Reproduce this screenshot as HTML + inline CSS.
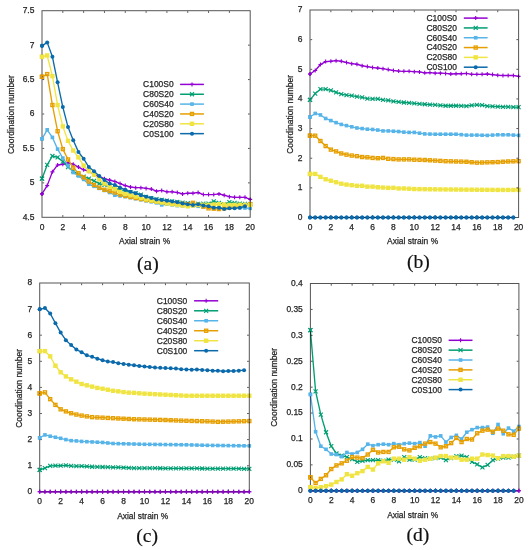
<!DOCTYPE html>
<html><head><meta charset="utf-8"><style>
html,body{margin:0;padding:0;background:#fff;}
svg{display:block;filter:blur(0.3px);}
text{font-family:"Liberation Sans",sans-serif;font-size:8.45px;fill:#262626;stroke:#262626;stroke-width:0.25px;}
text.tag{font-family:"Liberation Serif",serif;font-size:19.6px;fill:#111;stroke:#111;stroke-width:0.2px;}
</style></head><body>
<svg width="530" height="550" viewBox="0 0 530 550">
<rect width="530" height="550" fill="#fff"/>
<text x="42.00" y="229.90" text-anchor="middle">0</text>
<text x="62.82" y="229.90" text-anchor="middle">2</text>
<text x="83.64" y="229.90" text-anchor="middle">4</text>
<text x="104.46" y="229.90" text-anchor="middle">6</text>
<text x="125.28" y="229.90" text-anchor="middle">8</text>
<text x="146.10" y="229.90" text-anchor="middle">10</text>
<text x="166.92" y="229.90" text-anchor="middle">12</text>
<text x="187.74" y="229.90" text-anchor="middle">14</text>
<text x="208.56" y="229.90" text-anchor="middle">16</text>
<text x="229.38" y="229.90" text-anchor="middle">18</text>
<text x="250.20" y="229.90" text-anchor="middle">20</text>
<text x="34.40" y="219.70" text-anchor="end">4.5</text>
<text x="34.40" y="185.27" text-anchor="end">5</text>
<text x="34.40" y="150.83" text-anchor="end">5.5</text>
<text x="34.40" y="116.40" text-anchor="end">6</text>
<text x="34.40" y="81.97" text-anchor="end">6.5</text>
<text x="34.40" y="47.53" text-anchor="end">7</text>
<text x="34.40" y="13.10" text-anchor="end">7.5</text>
<text x="0" y="0" text-anchor="middle" transform="translate(14.10,114.60) rotate(-90)">Coordination number</text>
<text x="144.60" y="243.80" text-anchor="middle">Axial strain %</text>
<text x="147.85" y="269.70" text-anchor="middle" class="tag">(a)</text>
<text x="173.60" y="87.30" text-anchor="end">C100S0</text>
<path d="M180.10 84.40H203.90" stroke="#9400d3" stroke-width="1.5"/>
<path d="M190.00 84.40H194.00M192.00 82.40V86.40" stroke="#9400d3" stroke-width="1.1" fill="none"/>
<text x="173.60" y="97.15" text-anchor="end">C80S20</text>
<path d="M180.10 94.25H203.90" stroke="#009e73" stroke-width="1.5"/>
<path d="M190.00 92.25L194.00 96.25M190.00 96.25L194.00 92.25" stroke="#009e73" stroke-width="1.1" fill="none"/>
<text x="173.60" y="107.00" text-anchor="end">C60S40</text>
<path d="M180.10 104.10H203.90" stroke="#56b4e9" stroke-width="1.5"/>
<rect x="190.20" y="102.30" width="3.60" height="3.60" fill="#56b4e9"/>
<text x="173.60" y="116.85" text-anchor="end">C40S20</text>
<path d="M180.10 113.95H203.90" stroke="#e69f00" stroke-width="1.5"/>
<rect x="190.45" y="112.40" width="3.10" height="3.10" fill="none" stroke="#e69f00" stroke-width="1.3"/>
<text x="173.60" y="126.70" text-anchor="end">C20S80</text>
<path d="M180.10 123.80H203.90" stroke="#f0e442" stroke-width="1.5"/>
<rect x="189.80" y="121.60" width="4.40" height="4.40" fill="#f0e442"/>
<text x="173.60" y="136.55" text-anchor="end">C0S100</text>
<path d="M180.10 133.65H203.90" stroke="#0a6aab" stroke-width="1.5"/>
<circle cx="192.00" cy="133.65" r="2.0" fill="#0a6aab"/>
<path d="M42.00 193.89L47.20 185.62L52.41 171.85L57.61 164.96L62.82 164.27L68.03 162.90L73.23 164.27L78.44 167.03L83.64 169.78L88.84 171.16L94.05 174.60L99.25 176.67L104.46 178.73L109.66 180.11L114.87 181.49L120.08 183.56L125.28 185.62L130.48 187.00L135.69 187.69L140.89 187.69L146.10 188.38L151.31 189.06L156.51 191.13L161.71 190.44L166.92 191.82L172.12 191.82L177.33 192.51L182.53 193.89L187.74 193.20L192.94 193.20L198.15 192.51L203.35 194.57L208.56 194.57L213.76 194.57L218.97 193.89L224.18 195.26L229.38 196.64L234.58 197.33L239.79 197.33L244.99 197.33L250.20 199.39" stroke="#9400d3" stroke-width="1.35" fill="none" stroke-linejoin="round"/>
<path d="M40.00 193.89H44.00M42.00 191.89V195.89" stroke="#9400d3" stroke-width="1.1" fill="none"/>
<path d="M45.20 185.62H49.20M47.20 183.62V187.62" stroke="#9400d3" stroke-width="1.1" fill="none"/>
<path d="M50.41 171.85H54.41M52.41 169.85V173.85" stroke="#9400d3" stroke-width="1.1" fill="none"/>
<path d="M55.61 164.96H59.61M57.61 162.96V166.96" stroke="#9400d3" stroke-width="1.1" fill="none"/>
<path d="M60.82 164.27H64.82M62.82 162.27V166.27" stroke="#9400d3" stroke-width="1.1" fill="none"/>
<path d="M66.03 162.90H70.03M68.03 160.90V164.90" stroke="#9400d3" stroke-width="1.1" fill="none"/>
<path d="M71.23 164.27H75.23M73.23 162.27V166.27" stroke="#9400d3" stroke-width="1.1" fill="none"/>
<path d="M76.44 167.03H80.44M78.44 165.03V169.03" stroke="#9400d3" stroke-width="1.1" fill="none"/>
<path d="M81.64 169.78H85.64M83.64 167.78V171.78" stroke="#9400d3" stroke-width="1.1" fill="none"/>
<path d="M86.84 171.16H90.84M88.84 169.16V173.16" stroke="#9400d3" stroke-width="1.1" fill="none"/>
<path d="M92.05 174.60H96.05M94.05 172.60V176.60" stroke="#9400d3" stroke-width="1.1" fill="none"/>
<path d="M97.25 176.67H101.25M99.25 174.67V178.67" stroke="#9400d3" stroke-width="1.1" fill="none"/>
<path d="M102.46 178.73H106.46M104.46 176.73V180.73" stroke="#9400d3" stroke-width="1.1" fill="none"/>
<path d="M107.66 180.11H111.66M109.66 178.11V182.11" stroke="#9400d3" stroke-width="1.1" fill="none"/>
<path d="M112.87 181.49H116.87M114.87 179.49V183.49" stroke="#9400d3" stroke-width="1.1" fill="none"/>
<path d="M118.08 183.56H122.08M120.08 181.56V185.56" stroke="#9400d3" stroke-width="1.1" fill="none"/>
<path d="M123.28 185.62H127.28M125.28 183.62V187.62" stroke="#9400d3" stroke-width="1.1" fill="none"/>
<path d="M128.48 187.00H132.48M130.48 185.00V189.00" stroke="#9400d3" stroke-width="1.1" fill="none"/>
<path d="M133.69 187.69H137.69M135.69 185.69V189.69" stroke="#9400d3" stroke-width="1.1" fill="none"/>
<path d="M138.89 187.69H142.89M140.89 185.69V189.69" stroke="#9400d3" stroke-width="1.1" fill="none"/>
<path d="M144.10 188.38H148.10M146.10 186.38V190.38" stroke="#9400d3" stroke-width="1.1" fill="none"/>
<path d="M149.31 189.06H153.31M151.31 187.06V191.06" stroke="#9400d3" stroke-width="1.1" fill="none"/>
<path d="M154.51 191.13H158.51M156.51 189.13V193.13" stroke="#9400d3" stroke-width="1.1" fill="none"/>
<path d="M159.71 190.44H163.71M161.71 188.44V192.44" stroke="#9400d3" stroke-width="1.1" fill="none"/>
<path d="M164.92 191.82H168.92M166.92 189.82V193.82" stroke="#9400d3" stroke-width="1.1" fill="none"/>
<path d="M170.12 191.82H174.12M172.12 189.82V193.82" stroke="#9400d3" stroke-width="1.1" fill="none"/>
<path d="M175.33 192.51H179.33M177.33 190.51V194.51" stroke="#9400d3" stroke-width="1.1" fill="none"/>
<path d="M180.53 193.89H184.53M182.53 191.89V195.89" stroke="#9400d3" stroke-width="1.1" fill="none"/>
<path d="M185.74 193.20H189.74M187.74 191.20V195.20" stroke="#9400d3" stroke-width="1.1" fill="none"/>
<path d="M190.94 193.20H194.94M192.94 191.20V195.20" stroke="#9400d3" stroke-width="1.1" fill="none"/>
<path d="M196.15 192.51H200.15M198.15 190.51V194.51" stroke="#9400d3" stroke-width="1.1" fill="none"/>
<path d="M201.35 194.57H205.35M203.35 192.57V196.57" stroke="#9400d3" stroke-width="1.1" fill="none"/>
<path d="M206.56 194.57H210.56M208.56 192.57V196.57" stroke="#9400d3" stroke-width="1.1" fill="none"/>
<path d="M211.76 194.57H215.76M213.76 192.57V196.57" stroke="#9400d3" stroke-width="1.1" fill="none"/>
<path d="M216.97 193.89H220.97M218.97 191.89V195.89" stroke="#9400d3" stroke-width="1.1" fill="none"/>
<path d="M222.18 195.26H226.18M224.18 193.26V197.26" stroke="#9400d3" stroke-width="1.1" fill="none"/>
<path d="M227.38 196.64H231.38M229.38 194.64V198.64" stroke="#9400d3" stroke-width="1.1" fill="none"/>
<path d="M232.58 197.33H236.58M234.58 195.33V199.33" stroke="#9400d3" stroke-width="1.1" fill="none"/>
<path d="M237.79 197.33H241.79M239.79 195.33V199.33" stroke="#9400d3" stroke-width="1.1" fill="none"/>
<path d="M242.99 197.33H246.99M244.99 195.33V199.33" stroke="#9400d3" stroke-width="1.1" fill="none"/>
<path d="M248.20 199.39H252.20M250.20 197.39V201.39" stroke="#9400d3" stroke-width="1.1" fill="none"/>
<path d="M42.00 178.73L47.20 164.96L52.41 156.01L57.61 157.39L62.82 161.52L68.03 167.03L73.23 171.16L78.44 174.60L83.64 176.67L88.84 178.73L94.05 180.80L99.25 183.56L104.46 184.93L109.66 186.65L114.87 188.38L120.08 189.75L125.28 191.13L130.48 192.16L135.69 193.20L140.89 194.57L146.10 196.98L151.31 198.02L156.51 199.05L161.71 199.84L166.92 200.63L172.12 201.32L177.33 202.01L182.53 202.60L187.74 203.18L192.94 203.53L198.15 203.87L203.35 203.70L208.56 203.53L213.76 201.46L218.97 202.84L224.18 204.22L229.38 202.15L234.58 202.84L239.79 203.53L244.99 203.87L250.20 204.22" stroke="#009e73" stroke-width="1.35" fill="none" stroke-linejoin="round"/>
<path d="M40.00 176.73L44.00 180.73M40.00 180.73L44.00 176.73" stroke="#009e73" stroke-width="1.1" fill="none"/>
<path d="M45.20 162.96L49.20 166.96M45.20 166.96L49.20 162.96" stroke="#009e73" stroke-width="1.1" fill="none"/>
<path d="M50.41 154.01L54.41 158.01M50.41 158.01L54.41 154.01" stroke="#009e73" stroke-width="1.1" fill="none"/>
<path d="M55.61 155.39L59.61 159.39M55.61 159.39L59.61 155.39" stroke="#009e73" stroke-width="1.1" fill="none"/>
<path d="M60.82 159.52L64.82 163.52M60.82 163.52L64.82 159.52" stroke="#009e73" stroke-width="1.1" fill="none"/>
<path d="M66.03 165.03L70.03 169.03M66.03 169.03L70.03 165.03" stroke="#009e73" stroke-width="1.1" fill="none"/>
<path d="M71.23 169.16L75.23 173.16M71.23 173.16L75.23 169.16" stroke="#009e73" stroke-width="1.1" fill="none"/>
<path d="M76.44 172.60L80.44 176.60M76.44 176.60L80.44 172.60" stroke="#009e73" stroke-width="1.1" fill="none"/>
<path d="M81.64 174.67L85.64 178.67M81.64 178.67L85.64 174.67" stroke="#009e73" stroke-width="1.1" fill="none"/>
<path d="M86.84 176.73L90.84 180.73M86.84 180.73L90.84 176.73" stroke="#009e73" stroke-width="1.1" fill="none"/>
<path d="M92.05 178.80L96.05 182.80M92.05 182.80L96.05 178.80" stroke="#009e73" stroke-width="1.1" fill="none"/>
<path d="M97.25 181.56L101.25 185.56M97.25 185.56L101.25 181.56" stroke="#009e73" stroke-width="1.1" fill="none"/>
<path d="M102.46 182.93L106.46 186.93M102.46 186.93L106.46 182.93" stroke="#009e73" stroke-width="1.1" fill="none"/>
<path d="M107.66 184.65L111.66 188.65M107.66 188.65L111.66 184.65" stroke="#009e73" stroke-width="1.1" fill="none"/>
<path d="M112.87 186.38L116.87 190.38M112.87 190.38L116.87 186.38" stroke="#009e73" stroke-width="1.1" fill="none"/>
<path d="M118.08 187.75L122.08 191.75M118.08 191.75L122.08 187.75" stroke="#009e73" stroke-width="1.1" fill="none"/>
<path d="M123.28 189.13L127.28 193.13M123.28 193.13L127.28 189.13" stroke="#009e73" stroke-width="1.1" fill="none"/>
<path d="M128.48 190.16L132.48 194.16M128.48 194.16L132.48 190.16" stroke="#009e73" stroke-width="1.1" fill="none"/>
<path d="M133.69 191.20L137.69 195.20M133.69 195.20L137.69 191.20" stroke="#009e73" stroke-width="1.1" fill="none"/>
<path d="M138.89 192.57L142.89 196.57M138.89 196.57L142.89 192.57" stroke="#009e73" stroke-width="1.1" fill="none"/>
<path d="M144.10 194.98L148.10 198.98M144.10 198.98L148.10 194.98" stroke="#009e73" stroke-width="1.1" fill="none"/>
<path d="M149.31 196.02L153.31 200.02M149.31 200.02L153.31 196.02" stroke="#009e73" stroke-width="1.1" fill="none"/>
<path d="M154.51 197.05L158.51 201.05M154.51 201.05L158.51 197.05" stroke="#009e73" stroke-width="1.1" fill="none"/>
<path d="M159.71 197.84L163.71 201.84M159.71 201.84L163.71 197.84" stroke="#009e73" stroke-width="1.1" fill="none"/>
<path d="M164.92 198.63L168.92 202.63M164.92 202.63L168.92 198.63" stroke="#009e73" stroke-width="1.1" fill="none"/>
<path d="M170.12 199.32L174.12 203.32M170.12 203.32L174.12 199.32" stroke="#009e73" stroke-width="1.1" fill="none"/>
<path d="M175.33 200.01L179.33 204.01M175.33 204.01L179.33 200.01" stroke="#009e73" stroke-width="1.1" fill="none"/>
<path d="M180.53 200.60L184.53 204.60M180.53 204.60L184.53 200.60" stroke="#009e73" stroke-width="1.1" fill="none"/>
<path d="M185.74 201.18L189.74 205.18M185.74 205.18L189.74 201.18" stroke="#009e73" stroke-width="1.1" fill="none"/>
<path d="M190.94 201.53L194.94 205.53M190.94 205.53L194.94 201.53" stroke="#009e73" stroke-width="1.1" fill="none"/>
<path d="M196.15 201.87L200.15 205.87M196.15 205.87L200.15 201.87" stroke="#009e73" stroke-width="1.1" fill="none"/>
<path d="M201.35 201.70L205.35 205.70M201.35 205.70L205.35 201.70" stroke="#009e73" stroke-width="1.1" fill="none"/>
<path d="M206.56 201.53L210.56 205.53M206.56 205.53L210.56 201.53" stroke="#009e73" stroke-width="1.1" fill="none"/>
<path d="M211.76 199.46L215.76 203.46M211.76 203.46L215.76 199.46" stroke="#009e73" stroke-width="1.1" fill="none"/>
<path d="M216.97 200.84L220.97 204.84M216.97 204.84L220.97 200.84" stroke="#009e73" stroke-width="1.1" fill="none"/>
<path d="M222.18 202.22L226.18 206.22M222.18 206.22L226.18 202.22" stroke="#009e73" stroke-width="1.1" fill="none"/>
<path d="M227.38 200.15L231.38 204.15M227.38 204.15L231.38 200.15" stroke="#009e73" stroke-width="1.1" fill="none"/>
<path d="M232.58 200.84L236.58 204.84M232.58 204.84L236.58 200.84" stroke="#009e73" stroke-width="1.1" fill="none"/>
<path d="M237.79 201.53L241.79 205.53M237.79 205.53L241.79 201.53" stroke="#009e73" stroke-width="1.1" fill="none"/>
<path d="M242.99 201.87L246.99 205.87M242.99 205.87L246.99 201.87" stroke="#009e73" stroke-width="1.1" fill="none"/>
<path d="M248.20 202.22L252.20 206.22M248.20 206.22L252.20 202.22" stroke="#009e73" stroke-width="1.1" fill="none"/>
<path d="M42.00 138.79L47.20 129.84L52.41 137.41L57.61 149.12L62.82 158.07L68.03 165.65L73.23 172.54L78.44 175.98L83.64 179.42L88.84 184.24L94.05 186.31L99.25 188.38L104.46 190.44L109.66 192.51L114.87 195.26L120.08 195.95L125.28 196.64L130.48 197.67L135.69 198.71L140.89 199.74L146.10 200.77L151.31 201.81L156.51 202.84L161.71 204.90L166.92 204.22L172.12 204.90L177.33 205.59L182.53 205.59L187.74 205.59L192.94 205.94L198.15 206.28L203.35 206.63L208.56 206.97L213.76 207.31L218.97 207.66L224.18 207.66L229.38 207.66L234.58 207.66L239.79 207.66L244.99 208.00L250.20 208.35" stroke="#56b4e9" stroke-width="1.35" fill="none" stroke-linejoin="round"/>
<rect x="40.20" y="136.99" width="3.60" height="3.60" fill="#56b4e9"/>
<rect x="45.41" y="128.04" width="3.60" height="3.60" fill="#56b4e9"/>
<rect x="50.61" y="135.61" width="3.60" height="3.60" fill="#56b4e9"/>
<rect x="55.81" y="147.32" width="3.60" height="3.60" fill="#56b4e9"/>
<rect x="61.02" y="156.27" width="3.60" height="3.60" fill="#56b4e9"/>
<rect x="66.23" y="163.85" width="3.60" height="3.60" fill="#56b4e9"/>
<rect x="71.43" y="170.74" width="3.60" height="3.60" fill="#56b4e9"/>
<rect x="76.64" y="174.18" width="3.60" height="3.60" fill="#56b4e9"/>
<rect x="81.84" y="177.62" width="3.60" height="3.60" fill="#56b4e9"/>
<rect x="87.05" y="182.44" width="3.60" height="3.60" fill="#56b4e9"/>
<rect x="92.25" y="184.51" width="3.60" height="3.60" fill="#56b4e9"/>
<rect x="97.45" y="186.58" width="3.60" height="3.60" fill="#56b4e9"/>
<rect x="102.66" y="188.64" width="3.60" height="3.60" fill="#56b4e9"/>
<rect x="107.86" y="190.71" width="3.60" height="3.60" fill="#56b4e9"/>
<rect x="113.07" y="193.46" width="3.60" height="3.60" fill="#56b4e9"/>
<rect x="118.28" y="194.15" width="3.60" height="3.60" fill="#56b4e9"/>
<rect x="123.48" y="194.84" width="3.60" height="3.60" fill="#56b4e9"/>
<rect x="128.68" y="195.87" width="3.60" height="3.60" fill="#56b4e9"/>
<rect x="133.89" y="196.91" width="3.60" height="3.60" fill="#56b4e9"/>
<rect x="139.09" y="197.94" width="3.60" height="3.60" fill="#56b4e9"/>
<rect x="144.30" y="198.97" width="3.60" height="3.60" fill="#56b4e9"/>
<rect x="149.50" y="200.01" width="3.60" height="3.60" fill="#56b4e9"/>
<rect x="154.71" y="201.04" width="3.60" height="3.60" fill="#56b4e9"/>
<rect x="159.91" y="203.10" width="3.60" height="3.60" fill="#56b4e9"/>
<rect x="165.12" y="202.42" width="3.60" height="3.60" fill="#56b4e9"/>
<rect x="170.32" y="203.10" width="3.60" height="3.60" fill="#56b4e9"/>
<rect x="175.53" y="203.79" width="3.60" height="3.60" fill="#56b4e9"/>
<rect x="180.73" y="203.79" width="3.60" height="3.60" fill="#56b4e9"/>
<rect x="185.94" y="203.79" width="3.60" height="3.60" fill="#56b4e9"/>
<rect x="191.14" y="204.14" width="3.60" height="3.60" fill="#56b4e9"/>
<rect x="196.35" y="204.48" width="3.60" height="3.60" fill="#56b4e9"/>
<rect x="201.55" y="204.83" width="3.60" height="3.60" fill="#56b4e9"/>
<rect x="206.76" y="205.17" width="3.60" height="3.60" fill="#56b4e9"/>
<rect x="211.96" y="205.51" width="3.60" height="3.60" fill="#56b4e9"/>
<rect x="217.17" y="205.86" width="3.60" height="3.60" fill="#56b4e9"/>
<rect x="222.38" y="205.86" width="3.60" height="3.60" fill="#56b4e9"/>
<rect x="227.58" y="205.86" width="3.60" height="3.60" fill="#56b4e9"/>
<rect x="232.78" y="205.86" width="3.60" height="3.60" fill="#56b4e9"/>
<rect x="237.99" y="205.86" width="3.60" height="3.60" fill="#56b4e9"/>
<rect x="243.19" y="206.20" width="3.60" height="3.60" fill="#56b4e9"/>
<rect x="248.40" y="206.55" width="3.60" height="3.60" fill="#56b4e9"/>
<path d="M42.00 76.81L47.20 74.06L52.41 105.05L57.61 131.22L62.82 149.12L68.03 159.45L73.23 167.72L78.44 173.23L83.64 177.36L88.84 181.49L94.05 184.93L99.25 187.69L104.46 189.75L109.66 191.13L114.87 192.51L120.08 194.57L125.28 195.95L130.48 196.98L135.69 198.02L140.89 199.05L146.10 200.08L151.31 200.77L156.51 201.46L161.71 202.15L166.92 202.84L172.12 203.18L177.33 203.53L182.53 203.87L187.74 204.22L192.94 202.84L198.15 204.90L203.35 206.63L208.56 208.35L213.76 208.69L218.97 209.04L224.18 208.35L229.38 207.66L234.58 206.97L239.79 206.28L244.99 205.25L250.20 204.22" stroke="#e69f00" stroke-width="1.35" fill="none" stroke-linejoin="round"/>
<rect x="40.45" y="75.26" width="3.10" height="3.10" fill="none" stroke="#e69f00" stroke-width="1.3"/>
<rect x="45.66" y="72.51" width="3.10" height="3.10" fill="none" stroke="#e69f00" stroke-width="1.3"/>
<rect x="50.86" y="103.50" width="3.10" height="3.10" fill="none" stroke="#e69f00" stroke-width="1.3"/>
<rect x="56.06" y="129.67" width="3.10" height="3.10" fill="none" stroke="#e69f00" stroke-width="1.3"/>
<rect x="61.27" y="147.57" width="3.10" height="3.10" fill="none" stroke="#e69f00" stroke-width="1.3"/>
<rect x="66.48" y="157.90" width="3.10" height="3.10" fill="none" stroke="#e69f00" stroke-width="1.3"/>
<rect x="71.68" y="166.17" width="3.10" height="3.10" fill="none" stroke="#e69f00" stroke-width="1.3"/>
<rect x="76.89" y="171.68" width="3.10" height="3.10" fill="none" stroke="#e69f00" stroke-width="1.3"/>
<rect x="82.09" y="175.81" width="3.10" height="3.10" fill="none" stroke="#e69f00" stroke-width="1.3"/>
<rect x="87.30" y="179.94" width="3.10" height="3.10" fill="none" stroke="#e69f00" stroke-width="1.3"/>
<rect x="92.50" y="183.38" width="3.10" height="3.10" fill="none" stroke="#e69f00" stroke-width="1.3"/>
<rect x="97.70" y="186.14" width="3.10" height="3.10" fill="none" stroke="#e69f00" stroke-width="1.3"/>
<rect x="102.91" y="188.20" width="3.10" height="3.10" fill="none" stroke="#e69f00" stroke-width="1.3"/>
<rect x="108.11" y="189.58" width="3.10" height="3.10" fill="none" stroke="#e69f00" stroke-width="1.3"/>
<rect x="113.32" y="190.96" width="3.10" height="3.10" fill="none" stroke="#e69f00" stroke-width="1.3"/>
<rect x="118.53" y="193.02" width="3.10" height="3.10" fill="none" stroke="#e69f00" stroke-width="1.3"/>
<rect x="123.73" y="194.40" width="3.10" height="3.10" fill="none" stroke="#e69f00" stroke-width="1.3"/>
<rect x="128.93" y="195.43" width="3.10" height="3.10" fill="none" stroke="#e69f00" stroke-width="1.3"/>
<rect x="134.14" y="196.47" width="3.10" height="3.10" fill="none" stroke="#e69f00" stroke-width="1.3"/>
<rect x="139.34" y="197.50" width="3.10" height="3.10" fill="none" stroke="#e69f00" stroke-width="1.3"/>
<rect x="144.55" y="198.53" width="3.10" height="3.10" fill="none" stroke="#e69f00" stroke-width="1.3"/>
<rect x="149.75" y="199.22" width="3.10" height="3.10" fill="none" stroke="#e69f00" stroke-width="1.3"/>
<rect x="154.96" y="199.91" width="3.10" height="3.10" fill="none" stroke="#e69f00" stroke-width="1.3"/>
<rect x="160.16" y="200.60" width="3.10" height="3.10" fill="none" stroke="#e69f00" stroke-width="1.3"/>
<rect x="165.37" y="201.29" width="3.10" height="3.10" fill="none" stroke="#e69f00" stroke-width="1.3"/>
<rect x="170.57" y="201.63" width="3.10" height="3.10" fill="none" stroke="#e69f00" stroke-width="1.3"/>
<rect x="175.78" y="201.98" width="3.10" height="3.10" fill="none" stroke="#e69f00" stroke-width="1.3"/>
<rect x="180.98" y="202.32" width="3.10" height="3.10" fill="none" stroke="#e69f00" stroke-width="1.3"/>
<rect x="186.19" y="202.67" width="3.10" height="3.10" fill="none" stroke="#e69f00" stroke-width="1.3"/>
<rect x="191.39" y="201.29" width="3.10" height="3.10" fill="none" stroke="#e69f00" stroke-width="1.3"/>
<rect x="196.60" y="203.35" width="3.10" height="3.10" fill="none" stroke="#e69f00" stroke-width="1.3"/>
<rect x="201.80" y="205.08" width="3.10" height="3.10" fill="none" stroke="#e69f00" stroke-width="1.3"/>
<rect x="207.01" y="206.80" width="3.10" height="3.10" fill="none" stroke="#e69f00" stroke-width="1.3"/>
<rect x="212.21" y="207.14" width="3.10" height="3.10" fill="none" stroke="#e69f00" stroke-width="1.3"/>
<rect x="217.42" y="207.49" width="3.10" height="3.10" fill="none" stroke="#e69f00" stroke-width="1.3"/>
<rect x="222.62" y="206.80" width="3.10" height="3.10" fill="none" stroke="#e69f00" stroke-width="1.3"/>
<rect x="227.83" y="206.11" width="3.10" height="3.10" fill="none" stroke="#e69f00" stroke-width="1.3"/>
<rect x="233.03" y="205.42" width="3.10" height="3.10" fill="none" stroke="#e69f00" stroke-width="1.3"/>
<rect x="238.24" y="204.73" width="3.10" height="3.10" fill="none" stroke="#e69f00" stroke-width="1.3"/>
<rect x="243.44" y="203.70" width="3.10" height="3.10" fill="none" stroke="#e69f00" stroke-width="1.3"/>
<rect x="248.65" y="202.67" width="3.10" height="3.10" fill="none" stroke="#e69f00" stroke-width="1.3"/>
<path d="M42.00 56.84L47.20 55.46L52.41 76.12L57.61 105.05L62.82 126.40L68.03 140.86L73.23 150.50L78.44 157.39L83.64 165.65L88.84 171.16L94.05 174.60L99.25 179.42L104.46 183.56L109.66 187.00L114.87 189.06L120.08 191.82L125.28 193.89L130.48 195.26L135.69 196.64L140.89 198.02L146.10 199.39L151.31 200.43L156.51 201.46L161.71 202.49L166.92 203.53L172.12 204.22L177.33 204.90L182.53 205.59L187.74 206.28L192.94 205.59L198.15 204.90L203.35 204.90L208.56 204.90L213.76 204.56L218.97 204.22L224.18 204.56L229.38 204.90L234.58 204.90L239.79 204.90L244.99 204.90L250.20 204.90" stroke="#f0e442" stroke-width="1.35" fill="none" stroke-linejoin="round"/>
<rect x="39.80" y="54.64" width="4.40" height="4.40" fill="#f0e442"/>
<rect x="45.00" y="53.26" width="4.40" height="4.40" fill="#f0e442"/>
<rect x="50.21" y="73.92" width="4.40" height="4.40" fill="#f0e442"/>
<rect x="55.41" y="102.85" width="4.40" height="4.40" fill="#f0e442"/>
<rect x="60.62" y="124.20" width="4.40" height="4.40" fill="#f0e442"/>
<rect x="65.83" y="138.66" width="4.40" height="4.40" fill="#f0e442"/>
<rect x="71.03" y="148.30" width="4.40" height="4.40" fill="#f0e442"/>
<rect x="76.23" y="155.19" width="4.40" height="4.40" fill="#f0e442"/>
<rect x="81.44" y="163.45" width="4.40" height="4.40" fill="#f0e442"/>
<rect x="86.64" y="168.96" width="4.40" height="4.40" fill="#f0e442"/>
<rect x="91.85" y="172.40" width="4.40" height="4.40" fill="#f0e442"/>
<rect x="97.05" y="177.22" width="4.40" height="4.40" fill="#f0e442"/>
<rect x="102.26" y="181.36" width="4.40" height="4.40" fill="#f0e442"/>
<rect x="107.46" y="184.80" width="4.40" height="4.40" fill="#f0e442"/>
<rect x="112.67" y="186.86" width="4.40" height="4.40" fill="#f0e442"/>
<rect x="117.88" y="189.62" width="4.40" height="4.40" fill="#f0e442"/>
<rect x="123.08" y="191.69" width="4.40" height="4.40" fill="#f0e442"/>
<rect x="128.28" y="193.06" width="4.40" height="4.40" fill="#f0e442"/>
<rect x="133.49" y="194.44" width="4.40" height="4.40" fill="#f0e442"/>
<rect x="138.69" y="195.82" width="4.40" height="4.40" fill="#f0e442"/>
<rect x="143.90" y="197.19" width="4.40" height="4.40" fill="#f0e442"/>
<rect x="149.11" y="198.23" width="4.40" height="4.40" fill="#f0e442"/>
<rect x="154.31" y="199.26" width="4.40" height="4.40" fill="#f0e442"/>
<rect x="159.51" y="200.29" width="4.40" height="4.40" fill="#f0e442"/>
<rect x="164.72" y="201.33" width="4.40" height="4.40" fill="#f0e442"/>
<rect x="169.93" y="202.02" width="4.40" height="4.40" fill="#f0e442"/>
<rect x="175.13" y="202.70" width="4.40" height="4.40" fill="#f0e442"/>
<rect x="180.34" y="203.39" width="4.40" height="4.40" fill="#f0e442"/>
<rect x="185.54" y="204.08" width="4.40" height="4.40" fill="#f0e442"/>
<rect x="190.75" y="203.39" width="4.40" height="4.40" fill="#f0e442"/>
<rect x="195.95" y="202.70" width="4.40" height="4.40" fill="#f0e442"/>
<rect x="201.16" y="202.70" width="4.40" height="4.40" fill="#f0e442"/>
<rect x="206.36" y="202.70" width="4.40" height="4.40" fill="#f0e442"/>
<rect x="211.56" y="202.36" width="4.40" height="4.40" fill="#f0e442"/>
<rect x="216.77" y="202.02" width="4.40" height="4.40" fill="#f0e442"/>
<rect x="221.98" y="202.36" width="4.40" height="4.40" fill="#f0e442"/>
<rect x="227.18" y="202.70" width="4.40" height="4.40" fill="#f0e442"/>
<rect x="232.38" y="202.70" width="4.40" height="4.40" fill="#f0e442"/>
<rect x="237.59" y="202.70" width="4.40" height="4.40" fill="#f0e442"/>
<rect x="242.79" y="202.70" width="4.40" height="4.40" fill="#f0e442"/>
<rect x="248.00" y="202.70" width="4.40" height="4.40" fill="#f0e442"/>
<path d="M42.00 45.82L47.20 42.38L52.41 56.84L57.61 82.32L62.82 107.11L68.03 127.08L73.23 140.17L78.44 151.88L83.64 158.76L88.84 167.03L94.05 171.16L99.25 175.98L104.46 180.11L109.66 183.56L114.87 184.93L120.08 187.69L125.28 189.75L130.48 191.82L135.69 193.20L140.89 195.26L146.10 196.64L151.31 198.02L156.51 199.39L161.71 200.08L166.92 200.77L172.12 201.46L177.33 202.15L182.53 203.53L187.74 204.22L192.94 204.90L198.15 204.22L203.35 205.59L208.56 206.28L213.76 207.66L218.97 207.66L224.18 209.04L229.38 208.35L234.58 208.35L239.79 207.66L244.99 206.28" stroke="#0a6aab" stroke-width="1.35" fill="none" stroke-linejoin="round"/>
<circle cx="42.00" cy="45.82" r="2.0" fill="#0a6aab"/>
<circle cx="47.20" cy="42.38" r="2.0" fill="#0a6aab"/>
<circle cx="52.41" cy="56.84" r="2.0" fill="#0a6aab"/>
<circle cx="57.61" cy="82.32" r="2.0" fill="#0a6aab"/>
<circle cx="62.82" cy="107.11" r="2.0" fill="#0a6aab"/>
<circle cx="68.03" cy="127.08" r="2.0" fill="#0a6aab"/>
<circle cx="73.23" cy="140.17" r="2.0" fill="#0a6aab"/>
<circle cx="78.44" cy="151.88" r="2.0" fill="#0a6aab"/>
<circle cx="83.64" cy="158.76" r="2.0" fill="#0a6aab"/>
<circle cx="88.84" cy="167.03" r="2.0" fill="#0a6aab"/>
<circle cx="94.05" cy="171.16" r="2.0" fill="#0a6aab"/>
<circle cx="99.25" cy="175.98" r="2.0" fill="#0a6aab"/>
<circle cx="104.46" cy="180.11" r="2.0" fill="#0a6aab"/>
<circle cx="109.66" cy="183.56" r="2.0" fill="#0a6aab"/>
<circle cx="114.87" cy="184.93" r="2.0" fill="#0a6aab"/>
<circle cx="120.08" cy="187.69" r="2.0" fill="#0a6aab"/>
<circle cx="125.28" cy="189.75" r="2.0" fill="#0a6aab"/>
<circle cx="130.48" cy="191.82" r="2.0" fill="#0a6aab"/>
<circle cx="135.69" cy="193.20" r="2.0" fill="#0a6aab"/>
<circle cx="140.89" cy="195.26" r="2.0" fill="#0a6aab"/>
<circle cx="146.10" cy="196.64" r="2.0" fill="#0a6aab"/>
<circle cx="151.31" cy="198.02" r="2.0" fill="#0a6aab"/>
<circle cx="156.51" cy="199.39" r="2.0" fill="#0a6aab"/>
<circle cx="161.71" cy="200.08" r="2.0" fill="#0a6aab"/>
<circle cx="166.92" cy="200.77" r="2.0" fill="#0a6aab"/>
<circle cx="172.12" cy="201.46" r="2.0" fill="#0a6aab"/>
<circle cx="177.33" cy="202.15" r="2.0" fill="#0a6aab"/>
<circle cx="182.53" cy="203.53" r="2.0" fill="#0a6aab"/>
<circle cx="187.74" cy="204.22" r="2.0" fill="#0a6aab"/>
<circle cx="192.94" cy="204.90" r="2.0" fill="#0a6aab"/>
<circle cx="198.15" cy="204.22" r="2.0" fill="#0a6aab"/>
<circle cx="203.35" cy="205.59" r="2.0" fill="#0a6aab"/>
<circle cx="208.56" cy="206.28" r="2.0" fill="#0a6aab"/>
<circle cx="213.76" cy="207.66" r="2.0" fill="#0a6aab"/>
<circle cx="218.97" cy="207.66" r="2.0" fill="#0a6aab"/>
<circle cx="224.18" cy="209.04" r="2.0" fill="#0a6aab"/>
<circle cx="229.38" cy="208.35" r="2.0" fill="#0a6aab"/>
<circle cx="234.58" cy="208.35" r="2.0" fill="#0a6aab"/>
<circle cx="239.79" cy="207.66" r="2.0" fill="#0a6aab"/>
<circle cx="244.99" cy="206.28" r="2.0" fill="#0a6aab"/>
<rect x="42.00" y="10.70" width="208.20" height="206.60" fill="none" stroke="#555555" stroke-width="1" style="mix-blend-mode:multiply"/>
<path d="M62.82 216.80v-1.7M62.82 11.20v1.7M83.64 216.80v-1.7M83.64 11.20v1.7M104.46 216.80v-1.7M104.46 11.20v1.7M125.28 216.80v-1.7M125.28 11.20v1.7M146.10 216.80v-1.7M146.10 11.20v1.7M166.92 216.80v-1.7M166.92 11.20v1.7M187.74 216.80v-1.7M187.74 11.20v1.7M208.56 216.80v-1.7M208.56 11.20v1.7M229.38 216.80v-1.7M229.38 11.20v1.7M42.50 182.87h1.7M249.70 182.87h-1.7M42.50 148.43h1.7M249.70 148.43h-1.7M42.50 114.00h1.7M249.70 114.00h-1.7M42.50 79.57h1.7M249.70 79.57h-1.7M42.50 45.13h1.7M249.70 45.13h-1.7" stroke="#555555" stroke-width="1" fill="none" style="mix-blend-mode:multiply"/>
<path d="M40.00 193.89H44.00M42.00 191.89V195.89" stroke="#9400d3" stroke-width="1.1" fill="none"/>
<path d="M40.00 176.73L44.00 180.73M40.00 180.73L44.00 176.73" stroke="#009e73" stroke-width="1.1" fill="none"/>
<rect x="40.20" y="136.99" width="3.60" height="3.60" fill="#56b4e9"/>
<rect x="40.45" y="75.26" width="3.10" height="3.10" fill="none" stroke="#e69f00" stroke-width="1.3"/>
<rect x="39.80" y="54.64" width="4.40" height="4.40" fill="#f0e442"/>
<circle cx="42.00" cy="45.82" r="2.0" fill="#0a6aab"/>
<text x="310.00" y="229.50" text-anchor="middle">0</text>
<text x="330.86" y="229.50" text-anchor="middle">2</text>
<text x="351.72" y="229.50" text-anchor="middle">4</text>
<text x="372.58" y="229.50" text-anchor="middle">6</text>
<text x="393.44" y="229.50" text-anchor="middle">8</text>
<text x="414.30" y="229.50" text-anchor="middle">10</text>
<text x="435.16" y="229.50" text-anchor="middle">12</text>
<text x="456.02" y="229.50" text-anchor="middle">14</text>
<text x="476.88" y="229.50" text-anchor="middle">16</text>
<text x="497.74" y="229.50" text-anchor="middle">18</text>
<text x="518.60" y="229.50" text-anchor="middle">20</text>
<text x="302.40" y="219.90" text-anchor="end">0</text>
<text x="302.40" y="190.26" text-anchor="end">1</text>
<text x="302.40" y="160.61" text-anchor="end">2</text>
<text x="302.40" y="130.97" text-anchor="end">3</text>
<text x="302.40" y="101.33" text-anchor="end">4</text>
<text x="302.40" y="71.69" text-anchor="end">5</text>
<text x="302.40" y="42.04" text-anchor="end">6</text>
<text x="302.40" y="12.40" text-anchor="end">7</text>
<text x="0" y="0" text-anchor="middle" transform="translate(292.60,114.40) rotate(-90)">Coordination number</text>
<text x="412.60" y="244.20" text-anchor="middle">Axial strain %</text>
<text x="418.45" y="268.20" text-anchor="middle" class="tag">(b)</text>
<text x="457.00" y="21.00" text-anchor="end">C100S0</text>
<path d="M463.80 18.10H487.60" stroke="#9400d3" stroke-width="1.5"/>
<path d="M473.70 18.10H477.70M475.70 16.10V20.10" stroke="#9400d3" stroke-width="1.1" fill="none"/>
<text x="457.00" y="30.82" text-anchor="end">C80S20</text>
<path d="M463.80 27.92H487.60" stroke="#009e73" stroke-width="1.5"/>
<path d="M473.70 25.92L477.70 29.92M473.70 29.92L477.70 25.92" stroke="#009e73" stroke-width="1.1" fill="none"/>
<text x="457.00" y="40.64" text-anchor="end">C60S40</text>
<path d="M463.80 37.74H487.60" stroke="#56b4e9" stroke-width="1.5"/>
<rect x="473.90" y="35.94" width="3.60" height="3.60" fill="#56b4e9"/>
<text x="457.00" y="50.46" text-anchor="end">C40S20</text>
<path d="M463.80 47.56H487.60" stroke="#e69f00" stroke-width="1.5"/>
<rect x="474.15" y="46.01" width="3.10" height="3.10" fill="none" stroke="#e69f00" stroke-width="1.3"/>
<text x="457.00" y="60.28" text-anchor="end">C20S80</text>
<path d="M463.80 57.38H487.60" stroke="#f0e442" stroke-width="1.5"/>
<rect x="473.50" y="55.18" width="4.40" height="4.40" fill="#f0e442"/>
<text x="457.00" y="70.10" text-anchor="end">C0S100</text>
<path d="M463.80 67.20H487.60" stroke="#0a6aab" stroke-width="1.5"/>
<circle cx="475.70" cy="67.20" r="2.0" fill="#0a6aab"/>
<path d="M310.00 74.03L315.21 70.47L320.43 64.54L325.64 61.58L330.86 61.28L336.07 60.69L341.29 61.28L346.50 62.47L351.72 63.65L356.94 64.25L362.15 65.73L367.37 66.62L372.58 67.51L377.80 68.10L383.01 68.69L388.23 69.58L393.44 70.47L398.65 71.06L403.87 71.36L409.09 71.36L414.30 71.66L419.51 71.95L424.73 72.84L429.94 72.55L435.16 73.14L440.38 73.14L445.59 73.44L450.81 74.03L456.02 73.73L461.24 73.73L466.45 73.44L471.67 74.32L476.88 74.32L482.10 74.32L487.31 74.03L492.53 74.62L497.74 75.21L502.96 75.51L508.17 75.51L513.38 75.51L518.60 76.40" stroke="#9400d3" stroke-width="1.35" fill="none" stroke-linejoin="round"/>
<path d="M308.00 74.03H312.00M310.00 72.03V76.03" stroke="#9400d3" stroke-width="1.1" fill="none"/>
<path d="M313.21 70.47H317.21M315.21 68.47V72.47" stroke="#9400d3" stroke-width="1.1" fill="none"/>
<path d="M318.43 64.54H322.43M320.43 62.54V66.54" stroke="#9400d3" stroke-width="1.1" fill="none"/>
<path d="M323.64 61.58H327.64M325.64 59.58V63.58" stroke="#9400d3" stroke-width="1.1" fill="none"/>
<path d="M328.86 61.28H332.86M330.86 59.28V63.28" stroke="#9400d3" stroke-width="1.1" fill="none"/>
<path d="M334.07 60.69H338.07M336.07 58.69V62.69" stroke="#9400d3" stroke-width="1.1" fill="none"/>
<path d="M339.29 61.28H343.29M341.29 59.28V63.28" stroke="#9400d3" stroke-width="1.1" fill="none"/>
<path d="M344.50 62.47H348.50M346.50 60.47V64.47" stroke="#9400d3" stroke-width="1.1" fill="none"/>
<path d="M349.72 63.65H353.72M351.72 61.65V65.65" stroke="#9400d3" stroke-width="1.1" fill="none"/>
<path d="M354.94 64.25H358.94M356.94 62.25V66.25" stroke="#9400d3" stroke-width="1.1" fill="none"/>
<path d="M360.15 65.73H364.15M362.15 63.73V67.73" stroke="#9400d3" stroke-width="1.1" fill="none"/>
<path d="M365.37 66.62H369.37M367.37 64.62V68.62" stroke="#9400d3" stroke-width="1.1" fill="none"/>
<path d="M370.58 67.51H374.58M372.58 65.51V69.51" stroke="#9400d3" stroke-width="1.1" fill="none"/>
<path d="M375.80 68.10H379.80M377.80 66.10V70.10" stroke="#9400d3" stroke-width="1.1" fill="none"/>
<path d="M381.01 68.69H385.01M383.01 66.69V70.69" stroke="#9400d3" stroke-width="1.1" fill="none"/>
<path d="M386.23 69.58H390.23M388.23 67.58V71.58" stroke="#9400d3" stroke-width="1.1" fill="none"/>
<path d="M391.44 70.47H395.44M393.44 68.47V72.47" stroke="#9400d3" stroke-width="1.1" fill="none"/>
<path d="M396.65 71.06H400.65M398.65 69.06V73.06" stroke="#9400d3" stroke-width="1.1" fill="none"/>
<path d="M401.87 71.36H405.87M403.87 69.36V73.36" stroke="#9400d3" stroke-width="1.1" fill="none"/>
<path d="M407.09 71.36H411.09M409.09 69.36V73.36" stroke="#9400d3" stroke-width="1.1" fill="none"/>
<path d="M412.30 71.66H416.30M414.30 69.66V73.66" stroke="#9400d3" stroke-width="1.1" fill="none"/>
<path d="M417.51 71.95H421.51M419.51 69.95V73.95" stroke="#9400d3" stroke-width="1.1" fill="none"/>
<path d="M422.73 72.84H426.73M424.73 70.84V74.84" stroke="#9400d3" stroke-width="1.1" fill="none"/>
<path d="M427.94 72.55H431.94M429.94 70.55V74.55" stroke="#9400d3" stroke-width="1.1" fill="none"/>
<path d="M433.16 73.14H437.16M435.16 71.14V75.14" stroke="#9400d3" stroke-width="1.1" fill="none"/>
<path d="M438.38 73.14H442.38M440.38 71.14V75.14" stroke="#9400d3" stroke-width="1.1" fill="none"/>
<path d="M443.59 73.44H447.59M445.59 71.44V75.44" stroke="#9400d3" stroke-width="1.1" fill="none"/>
<path d="M448.81 74.03H452.81M450.81 72.03V76.03" stroke="#9400d3" stroke-width="1.1" fill="none"/>
<path d="M454.02 73.73H458.02M456.02 71.73V75.73" stroke="#9400d3" stroke-width="1.1" fill="none"/>
<path d="M459.24 73.73H463.24M461.24 71.73V75.73" stroke="#9400d3" stroke-width="1.1" fill="none"/>
<path d="M464.45 73.44H468.45M466.45 71.44V75.44" stroke="#9400d3" stroke-width="1.1" fill="none"/>
<path d="M469.67 74.32H473.67M471.67 72.32V76.32" stroke="#9400d3" stroke-width="1.1" fill="none"/>
<path d="M474.88 74.32H478.88M476.88 72.32V76.32" stroke="#9400d3" stroke-width="1.1" fill="none"/>
<path d="M480.10 74.32H484.10M482.10 72.32V76.32" stroke="#9400d3" stroke-width="1.1" fill="none"/>
<path d="M485.31 74.03H489.31M487.31 72.03V76.03" stroke="#9400d3" stroke-width="1.1" fill="none"/>
<path d="M490.53 74.62H494.53M492.53 72.62V76.62" stroke="#9400d3" stroke-width="1.1" fill="none"/>
<path d="M495.74 75.21H499.74M497.74 73.21V77.21" stroke="#9400d3" stroke-width="1.1" fill="none"/>
<path d="M500.96 75.51H504.96M502.96 73.51V77.51" stroke="#9400d3" stroke-width="1.1" fill="none"/>
<path d="M506.17 75.51H510.17M508.17 73.51V77.51" stroke="#9400d3" stroke-width="1.1" fill="none"/>
<path d="M511.38 75.51H515.38M513.38 73.51V77.51" stroke="#9400d3" stroke-width="1.1" fill="none"/>
<path d="M516.60 76.40H520.60M518.60 74.40V78.40" stroke="#9400d3" stroke-width="1.1" fill="none"/>
<path d="M310.00 99.82L315.21 93.59L320.43 89.15L325.64 89.15L330.86 90.33L336.07 92.41L341.29 94.19L346.50 95.08L351.72 95.67L356.94 96.56L362.15 97.45L367.37 98.63L372.58 98.93L377.80 98.93L383.01 99.82L388.23 100.41L393.44 101.30L398.65 101.89L403.87 102.49L409.09 102.78L414.30 103.38L419.51 103.82L424.73 104.26L429.94 104.56L435.16 104.86L440.38 105.30L445.59 105.75L450.81 105.75L456.02 105.75L461.24 105.89L466.45 106.04L471.67 105.45L476.88 104.86L482.10 105.15L487.31 106.04L492.53 106.34L497.74 106.64L502.96 106.78L508.17 106.93L513.38 107.08L518.60 107.23" stroke="#009e73" stroke-width="1.35" fill="none" stroke-linejoin="round"/>
<path d="M308.00 97.82L312.00 101.82M308.00 101.82L312.00 97.82" stroke="#009e73" stroke-width="1.1" fill="none"/>
<path d="M313.21 91.59L317.21 95.59M313.21 95.59L317.21 91.59" stroke="#009e73" stroke-width="1.1" fill="none"/>
<path d="M318.43 87.15L322.43 91.15M318.43 91.15L322.43 87.15" stroke="#009e73" stroke-width="1.1" fill="none"/>
<path d="M323.64 87.15L327.64 91.15M323.64 91.15L327.64 87.15" stroke="#009e73" stroke-width="1.1" fill="none"/>
<path d="M328.86 88.33L332.86 92.33M328.86 92.33L332.86 88.33" stroke="#009e73" stroke-width="1.1" fill="none"/>
<path d="M334.07 90.41L338.07 94.41M334.07 94.41L338.07 90.41" stroke="#009e73" stroke-width="1.1" fill="none"/>
<path d="M339.29 92.19L343.29 96.19M339.29 96.19L343.29 92.19" stroke="#009e73" stroke-width="1.1" fill="none"/>
<path d="M344.50 93.08L348.50 97.08M344.50 97.08L348.50 93.08" stroke="#009e73" stroke-width="1.1" fill="none"/>
<path d="M349.72 93.67L353.72 97.67M349.72 97.67L353.72 93.67" stroke="#009e73" stroke-width="1.1" fill="none"/>
<path d="M354.94 94.56L358.94 98.56M354.94 98.56L358.94 94.56" stroke="#009e73" stroke-width="1.1" fill="none"/>
<path d="M360.15 95.45L364.15 99.45M360.15 99.45L364.15 95.45" stroke="#009e73" stroke-width="1.1" fill="none"/>
<path d="M365.37 96.63L369.37 100.63M365.37 100.63L369.37 96.63" stroke="#009e73" stroke-width="1.1" fill="none"/>
<path d="M370.58 96.93L374.58 100.93M370.58 100.93L374.58 96.93" stroke="#009e73" stroke-width="1.1" fill="none"/>
<path d="M375.80 96.93L379.80 100.93M375.80 100.93L379.80 96.93" stroke="#009e73" stroke-width="1.1" fill="none"/>
<path d="M381.01 97.82L385.01 101.82M381.01 101.82L385.01 97.82" stroke="#009e73" stroke-width="1.1" fill="none"/>
<path d="M386.23 98.41L390.23 102.41M386.23 102.41L390.23 98.41" stroke="#009e73" stroke-width="1.1" fill="none"/>
<path d="M391.44 99.30L395.44 103.30M391.44 103.30L395.44 99.30" stroke="#009e73" stroke-width="1.1" fill="none"/>
<path d="M396.65 99.89L400.65 103.89M396.65 103.89L400.65 99.89" stroke="#009e73" stroke-width="1.1" fill="none"/>
<path d="M401.87 100.49L405.87 104.49M401.87 104.49L405.87 100.49" stroke="#009e73" stroke-width="1.1" fill="none"/>
<path d="M407.09 100.78L411.09 104.78M407.09 104.78L411.09 100.78" stroke="#009e73" stroke-width="1.1" fill="none"/>
<path d="M412.30 101.38L416.30 105.38M412.30 105.38L416.30 101.38" stroke="#009e73" stroke-width="1.1" fill="none"/>
<path d="M417.51 101.82L421.51 105.82M417.51 105.82L421.51 101.82" stroke="#009e73" stroke-width="1.1" fill="none"/>
<path d="M422.73 102.26L426.73 106.26M422.73 106.26L426.73 102.26" stroke="#009e73" stroke-width="1.1" fill="none"/>
<path d="M427.94 102.56L431.94 106.56M427.94 106.56L431.94 102.56" stroke="#009e73" stroke-width="1.1" fill="none"/>
<path d="M433.16 102.86L437.16 106.86M433.16 106.86L437.16 102.86" stroke="#009e73" stroke-width="1.1" fill="none"/>
<path d="M438.38 103.30L442.38 107.30M438.38 107.30L442.38 103.30" stroke="#009e73" stroke-width="1.1" fill="none"/>
<path d="M443.59 103.75L447.59 107.75M443.59 107.75L447.59 103.75" stroke="#009e73" stroke-width="1.1" fill="none"/>
<path d="M448.81 103.75L452.81 107.75M448.81 107.75L452.81 103.75" stroke="#009e73" stroke-width="1.1" fill="none"/>
<path d="M454.02 103.75L458.02 107.75M454.02 107.75L458.02 103.75" stroke="#009e73" stroke-width="1.1" fill="none"/>
<path d="M459.24 103.89L463.24 107.89M459.24 107.89L463.24 103.89" stroke="#009e73" stroke-width="1.1" fill="none"/>
<path d="M464.45 104.04L468.45 108.04M464.45 108.04L468.45 104.04" stroke="#009e73" stroke-width="1.1" fill="none"/>
<path d="M469.67 103.45L473.67 107.45M469.67 107.45L473.67 103.45" stroke="#009e73" stroke-width="1.1" fill="none"/>
<path d="M474.88 102.86L478.88 106.86M474.88 106.86L478.88 102.86" stroke="#009e73" stroke-width="1.1" fill="none"/>
<path d="M480.10 103.15L484.10 107.15M480.10 107.15L484.10 103.15" stroke="#009e73" stroke-width="1.1" fill="none"/>
<path d="M485.31 104.04L489.31 108.04M485.31 108.04L489.31 104.04" stroke="#009e73" stroke-width="1.1" fill="none"/>
<path d="M490.53 104.34L494.53 108.34M490.53 108.34L494.53 104.34" stroke="#009e73" stroke-width="1.1" fill="none"/>
<path d="M495.74 104.64L499.74 108.64M495.74 108.64L499.74 104.64" stroke="#009e73" stroke-width="1.1" fill="none"/>
<path d="M500.96 104.78L504.96 108.78M500.96 108.78L504.96 104.78" stroke="#009e73" stroke-width="1.1" fill="none"/>
<path d="M506.17 104.93L510.17 108.93M506.17 108.93L510.17 104.93" stroke="#009e73" stroke-width="1.1" fill="none"/>
<path d="M511.38 105.08L515.38 109.08M511.38 109.08L515.38 105.08" stroke="#009e73" stroke-width="1.1" fill="none"/>
<path d="M516.60 105.23L520.60 109.23M516.60 109.23L520.60 105.23" stroke="#009e73" stroke-width="1.1" fill="none"/>
<path d="M310.00 117.01L315.21 113.45L320.43 114.94L325.64 118.49L330.86 120.57L336.07 122.64L341.29 124.42L346.50 125.61L351.72 126.79L356.94 127.98L362.15 128.57L367.37 129.16L372.58 129.46L377.80 130.05L383.01 130.94L388.23 130.94L393.44 131.24L398.65 131.54L403.87 132.13L409.09 132.43L414.30 132.43L419.51 133.17L424.73 133.91L429.94 134.06L435.16 134.20L440.38 134.20L445.59 134.20L450.81 134.20L456.02 134.20L461.24 134.65L466.45 135.09L471.67 135.09L476.88 135.09L482.10 135.24L487.31 135.39L492.53 135.09L497.74 134.80L502.96 134.80L508.17 134.80L513.38 135.09L518.60 135.39" stroke="#56b4e9" stroke-width="1.35" fill="none" stroke-linejoin="round"/>
<rect x="308.20" y="115.21" width="3.60" height="3.60" fill="#56b4e9"/>
<rect x="313.41" y="111.65" width="3.60" height="3.60" fill="#56b4e9"/>
<rect x="318.63" y="113.14" width="3.60" height="3.60" fill="#56b4e9"/>
<rect x="323.84" y="116.69" width="3.60" height="3.60" fill="#56b4e9"/>
<rect x="329.06" y="118.77" width="3.60" height="3.60" fill="#56b4e9"/>
<rect x="334.27" y="120.84" width="3.60" height="3.60" fill="#56b4e9"/>
<rect x="339.49" y="122.62" width="3.60" height="3.60" fill="#56b4e9"/>
<rect x="344.70" y="123.81" width="3.60" height="3.60" fill="#56b4e9"/>
<rect x="349.92" y="124.99" width="3.60" height="3.60" fill="#56b4e9"/>
<rect x="355.13" y="126.18" width="3.60" height="3.60" fill="#56b4e9"/>
<rect x="360.35" y="126.77" width="3.60" height="3.60" fill="#56b4e9"/>
<rect x="365.56" y="127.36" width="3.60" height="3.60" fill="#56b4e9"/>
<rect x="370.78" y="127.66" width="3.60" height="3.60" fill="#56b4e9"/>
<rect x="376.00" y="128.25" width="3.60" height="3.60" fill="#56b4e9"/>
<rect x="381.21" y="129.14" width="3.60" height="3.60" fill="#56b4e9"/>
<rect x="386.43" y="129.14" width="3.60" height="3.60" fill="#56b4e9"/>
<rect x="391.64" y="129.44" width="3.60" height="3.60" fill="#56b4e9"/>
<rect x="396.85" y="129.74" width="3.60" height="3.60" fill="#56b4e9"/>
<rect x="402.07" y="130.33" width="3.60" height="3.60" fill="#56b4e9"/>
<rect x="407.29" y="130.62" width="3.60" height="3.60" fill="#56b4e9"/>
<rect x="412.50" y="130.62" width="3.60" height="3.60" fill="#56b4e9"/>
<rect x="417.71" y="131.37" width="3.60" height="3.60" fill="#56b4e9"/>
<rect x="422.93" y="132.11" width="3.60" height="3.60" fill="#56b4e9"/>
<rect x="428.14" y="132.26" width="3.60" height="3.60" fill="#56b4e9"/>
<rect x="433.36" y="132.40" width="3.60" height="3.60" fill="#56b4e9"/>
<rect x="438.57" y="132.40" width="3.60" height="3.60" fill="#56b4e9"/>
<rect x="443.79" y="132.40" width="3.60" height="3.60" fill="#56b4e9"/>
<rect x="449.00" y="132.40" width="3.60" height="3.60" fill="#56b4e9"/>
<rect x="454.22" y="132.40" width="3.60" height="3.60" fill="#56b4e9"/>
<rect x="459.44" y="132.85" width="3.60" height="3.60" fill="#56b4e9"/>
<rect x="464.65" y="133.29" width="3.60" height="3.60" fill="#56b4e9"/>
<rect x="469.87" y="133.29" width="3.60" height="3.60" fill="#56b4e9"/>
<rect x="475.08" y="133.29" width="3.60" height="3.60" fill="#56b4e9"/>
<rect x="480.30" y="133.44" width="3.60" height="3.60" fill="#56b4e9"/>
<rect x="485.51" y="133.59" width="3.60" height="3.60" fill="#56b4e9"/>
<rect x="490.73" y="133.29" width="3.60" height="3.60" fill="#56b4e9"/>
<rect x="495.94" y="133.00" width="3.60" height="3.60" fill="#56b4e9"/>
<rect x="501.16" y="133.00" width="3.60" height="3.60" fill="#56b4e9"/>
<rect x="506.37" y="133.00" width="3.60" height="3.60" fill="#56b4e9"/>
<rect x="511.58" y="133.29" width="3.60" height="3.60" fill="#56b4e9"/>
<rect x="516.80" y="133.59" width="3.60" height="3.60" fill="#56b4e9"/>
<path d="M310.00 135.69L315.21 135.69L320.43 141.02L325.64 146.06L330.86 149.62L336.07 151.40L341.29 153.47L346.50 154.66L351.72 155.55L356.94 156.14L362.15 157.03L367.37 157.32L372.58 157.92L377.80 158.21L383.01 157.92L388.23 158.81L393.44 159.10L398.65 159.40L403.87 159.40L409.09 159.40L414.30 159.70L419.51 159.84L424.73 159.99L429.94 160.29L435.16 160.59L440.38 160.88L445.59 161.18L450.81 161.33L456.02 161.48L461.24 161.62L466.45 161.77L471.67 162.22L476.88 162.66L482.10 162.51L487.31 162.36L492.53 162.22L497.74 162.07L502.96 161.77L508.17 161.48L513.38 161.33L518.60 161.18" stroke="#e69f00" stroke-width="1.35" fill="none" stroke-linejoin="round"/>
<rect x="308.45" y="134.14" width="3.10" height="3.10" fill="none" stroke="#e69f00" stroke-width="1.3"/>
<rect x="313.66" y="134.14" width="3.10" height="3.10" fill="none" stroke="#e69f00" stroke-width="1.3"/>
<rect x="318.88" y="139.47" width="3.10" height="3.10" fill="none" stroke="#e69f00" stroke-width="1.3"/>
<rect x="324.09" y="144.51" width="3.10" height="3.10" fill="none" stroke="#e69f00" stroke-width="1.3"/>
<rect x="329.31" y="148.07" width="3.10" height="3.10" fill="none" stroke="#e69f00" stroke-width="1.3"/>
<rect x="334.52" y="149.85" width="3.10" height="3.10" fill="none" stroke="#e69f00" stroke-width="1.3"/>
<rect x="339.74" y="151.92" width="3.10" height="3.10" fill="none" stroke="#e69f00" stroke-width="1.3"/>
<rect x="344.95" y="153.11" width="3.10" height="3.10" fill="none" stroke="#e69f00" stroke-width="1.3"/>
<rect x="350.17" y="154.00" width="3.10" height="3.10" fill="none" stroke="#e69f00" stroke-width="1.3"/>
<rect x="355.38" y="154.59" width="3.10" height="3.10" fill="none" stroke="#e69f00" stroke-width="1.3"/>
<rect x="360.60" y="155.48" width="3.10" height="3.10" fill="none" stroke="#e69f00" stroke-width="1.3"/>
<rect x="365.81" y="155.77" width="3.10" height="3.10" fill="none" stroke="#e69f00" stroke-width="1.3"/>
<rect x="371.03" y="156.37" width="3.10" height="3.10" fill="none" stroke="#e69f00" stroke-width="1.3"/>
<rect x="376.25" y="156.66" width="3.10" height="3.10" fill="none" stroke="#e69f00" stroke-width="1.3"/>
<rect x="381.46" y="156.37" width="3.10" height="3.10" fill="none" stroke="#e69f00" stroke-width="1.3"/>
<rect x="386.68" y="157.26" width="3.10" height="3.10" fill="none" stroke="#e69f00" stroke-width="1.3"/>
<rect x="391.89" y="157.55" width="3.10" height="3.10" fill="none" stroke="#e69f00" stroke-width="1.3"/>
<rect x="397.10" y="157.85" width="3.10" height="3.10" fill="none" stroke="#e69f00" stroke-width="1.3"/>
<rect x="402.32" y="157.85" width="3.10" height="3.10" fill="none" stroke="#e69f00" stroke-width="1.3"/>
<rect x="407.54" y="157.85" width="3.10" height="3.10" fill="none" stroke="#e69f00" stroke-width="1.3"/>
<rect x="412.75" y="158.15" width="3.10" height="3.10" fill="none" stroke="#e69f00" stroke-width="1.3"/>
<rect x="417.96" y="158.29" width="3.10" height="3.10" fill="none" stroke="#e69f00" stroke-width="1.3"/>
<rect x="423.18" y="158.44" width="3.10" height="3.10" fill="none" stroke="#e69f00" stroke-width="1.3"/>
<rect x="428.39" y="158.74" width="3.10" height="3.10" fill="none" stroke="#e69f00" stroke-width="1.3"/>
<rect x="433.61" y="159.04" width="3.10" height="3.10" fill="none" stroke="#e69f00" stroke-width="1.3"/>
<rect x="438.82" y="159.33" width="3.10" height="3.10" fill="none" stroke="#e69f00" stroke-width="1.3"/>
<rect x="444.04" y="159.63" width="3.10" height="3.10" fill="none" stroke="#e69f00" stroke-width="1.3"/>
<rect x="449.25" y="159.78" width="3.10" height="3.10" fill="none" stroke="#e69f00" stroke-width="1.3"/>
<rect x="454.47" y="159.93" width="3.10" height="3.10" fill="none" stroke="#e69f00" stroke-width="1.3"/>
<rect x="459.69" y="160.07" width="3.10" height="3.10" fill="none" stroke="#e69f00" stroke-width="1.3"/>
<rect x="464.90" y="160.22" width="3.10" height="3.10" fill="none" stroke="#e69f00" stroke-width="1.3"/>
<rect x="470.12" y="160.67" width="3.10" height="3.10" fill="none" stroke="#e69f00" stroke-width="1.3"/>
<rect x="475.33" y="161.11" width="3.10" height="3.10" fill="none" stroke="#e69f00" stroke-width="1.3"/>
<rect x="480.55" y="160.96" width="3.10" height="3.10" fill="none" stroke="#e69f00" stroke-width="1.3"/>
<rect x="485.76" y="160.81" width="3.10" height="3.10" fill="none" stroke="#e69f00" stroke-width="1.3"/>
<rect x="490.98" y="160.67" width="3.10" height="3.10" fill="none" stroke="#e69f00" stroke-width="1.3"/>
<rect x="496.19" y="160.52" width="3.10" height="3.10" fill="none" stroke="#e69f00" stroke-width="1.3"/>
<rect x="501.41" y="160.22" width="3.10" height="3.10" fill="none" stroke="#e69f00" stroke-width="1.3"/>
<rect x="506.62" y="159.93" width="3.10" height="3.10" fill="none" stroke="#e69f00" stroke-width="1.3"/>
<rect x="511.83" y="159.78" width="3.10" height="3.10" fill="none" stroke="#e69f00" stroke-width="1.3"/>
<rect x="517.05" y="159.63" width="3.10" height="3.10" fill="none" stroke="#e69f00" stroke-width="1.3"/>
<path d="M310.00 173.93L315.21 173.93L320.43 176.89L325.64 179.26L330.86 180.74L336.07 182.22L341.29 183.71L346.50 184.60L351.72 185.19L356.94 185.78L362.15 185.78L367.37 186.67L372.58 186.67L377.80 187.26L383.01 187.56L388.23 187.86L393.44 187.86L398.65 188.45L403.87 188.45L409.09 188.75L414.30 189.04L419.51 189.12L424.73 189.19L429.94 189.27L435.16 189.34L440.38 189.39L445.59 189.44L450.81 189.49L456.02 189.54L461.24 189.59L466.45 189.64L471.67 189.69L476.88 189.73L482.10 189.78L487.31 189.83L492.53 189.88L497.74 189.93L502.96 189.93L508.17 189.93L513.38 189.93L518.60 189.93" stroke="#f0e442" stroke-width="1.35" fill="none" stroke-linejoin="round"/>
<rect x="307.80" y="171.73" width="4.40" height="4.40" fill="#f0e442"/>
<rect x="313.01" y="171.73" width="4.40" height="4.40" fill="#f0e442"/>
<rect x="318.23" y="174.69" width="4.40" height="4.40" fill="#f0e442"/>
<rect x="323.44" y="177.06" width="4.40" height="4.40" fill="#f0e442"/>
<rect x="328.66" y="178.54" width="4.40" height="4.40" fill="#f0e442"/>
<rect x="333.88" y="180.03" width="4.40" height="4.40" fill="#f0e442"/>
<rect x="339.09" y="181.51" width="4.40" height="4.40" fill="#f0e442"/>
<rect x="344.31" y="182.40" width="4.40" height="4.40" fill="#f0e442"/>
<rect x="349.52" y="182.99" width="4.40" height="4.40" fill="#f0e442"/>
<rect x="354.74" y="183.58" width="4.40" height="4.40" fill="#f0e442"/>
<rect x="359.95" y="183.58" width="4.40" height="4.40" fill="#f0e442"/>
<rect x="365.17" y="184.47" width="4.40" height="4.40" fill="#f0e442"/>
<rect x="370.38" y="184.47" width="4.40" height="4.40" fill="#f0e442"/>
<rect x="375.60" y="185.06" width="4.40" height="4.40" fill="#f0e442"/>
<rect x="380.81" y="185.36" width="4.40" height="4.40" fill="#f0e442"/>
<rect x="386.03" y="185.66" width="4.40" height="4.40" fill="#f0e442"/>
<rect x="391.24" y="185.66" width="4.40" height="4.40" fill="#f0e442"/>
<rect x="396.45" y="186.25" width="4.40" height="4.40" fill="#f0e442"/>
<rect x="401.67" y="186.25" width="4.40" height="4.40" fill="#f0e442"/>
<rect x="406.89" y="186.55" width="4.40" height="4.40" fill="#f0e442"/>
<rect x="412.10" y="186.84" width="4.40" height="4.40" fill="#f0e442"/>
<rect x="417.31" y="186.92" width="4.40" height="4.40" fill="#f0e442"/>
<rect x="422.53" y="186.99" width="4.40" height="4.40" fill="#f0e442"/>
<rect x="427.75" y="187.07" width="4.40" height="4.40" fill="#f0e442"/>
<rect x="432.96" y="187.14" width="4.40" height="4.40" fill="#f0e442"/>
<rect x="438.18" y="187.19" width="4.40" height="4.40" fill="#f0e442"/>
<rect x="443.39" y="187.24" width="4.40" height="4.40" fill="#f0e442"/>
<rect x="448.61" y="187.29" width="4.40" height="4.40" fill="#f0e442"/>
<rect x="453.82" y="187.34" width="4.40" height="4.40" fill="#f0e442"/>
<rect x="459.04" y="187.39" width="4.40" height="4.40" fill="#f0e442"/>
<rect x="464.25" y="187.44" width="4.40" height="4.40" fill="#f0e442"/>
<rect x="469.47" y="187.49" width="4.40" height="4.40" fill="#f0e442"/>
<rect x="474.68" y="187.53" width="4.40" height="4.40" fill="#f0e442"/>
<rect x="479.90" y="187.58" width="4.40" height="4.40" fill="#f0e442"/>
<rect x="485.11" y="187.63" width="4.40" height="4.40" fill="#f0e442"/>
<rect x="490.33" y="187.68" width="4.40" height="4.40" fill="#f0e442"/>
<rect x="495.54" y="187.73" width="4.40" height="4.40" fill="#f0e442"/>
<rect x="500.76" y="187.73" width="4.40" height="4.40" fill="#f0e442"/>
<rect x="505.97" y="187.73" width="4.40" height="4.40" fill="#f0e442"/>
<rect x="511.19" y="187.73" width="4.40" height="4.40" fill="#f0e442"/>
<rect x="516.40" y="187.73" width="4.40" height="4.40" fill="#f0e442"/>
<path d="M310.00 217.50L315.21 217.50L320.43 217.50L325.64 217.50L330.86 217.50L336.07 217.50L341.29 217.50L346.50 217.50L351.72 217.50L356.94 217.50L362.15 217.50L367.37 217.50L372.58 217.50L377.80 217.50L383.01 217.50L388.23 217.50L393.44 217.50L398.65 217.50L403.87 217.50L409.09 217.50L414.30 217.50L419.51 217.50L424.73 217.50L429.94 217.50L435.16 217.50L440.38 217.50L445.59 217.50L450.81 217.50L456.02 217.50L461.24 217.50L466.45 217.50L471.67 217.50L476.88 217.50L482.10 217.50L487.31 217.50L492.53 217.50L497.74 217.50L502.96 217.50L508.17 217.50L513.38 217.50" stroke="#0a6aab" stroke-width="1.35" fill="none" stroke-linejoin="round"/>
<circle cx="310.00" cy="217.50" r="2.0" fill="#0a6aab"/>
<circle cx="315.21" cy="217.50" r="2.0" fill="#0a6aab"/>
<circle cx="320.43" cy="217.50" r="2.0" fill="#0a6aab"/>
<circle cx="325.64" cy="217.50" r="2.0" fill="#0a6aab"/>
<circle cx="330.86" cy="217.50" r="2.0" fill="#0a6aab"/>
<circle cx="336.07" cy="217.50" r="2.0" fill="#0a6aab"/>
<circle cx="341.29" cy="217.50" r="2.0" fill="#0a6aab"/>
<circle cx="346.50" cy="217.50" r="2.0" fill="#0a6aab"/>
<circle cx="351.72" cy="217.50" r="2.0" fill="#0a6aab"/>
<circle cx="356.94" cy="217.50" r="2.0" fill="#0a6aab"/>
<circle cx="362.15" cy="217.50" r="2.0" fill="#0a6aab"/>
<circle cx="367.37" cy="217.50" r="2.0" fill="#0a6aab"/>
<circle cx="372.58" cy="217.50" r="2.0" fill="#0a6aab"/>
<circle cx="377.80" cy="217.50" r="2.0" fill="#0a6aab"/>
<circle cx="383.01" cy="217.50" r="2.0" fill="#0a6aab"/>
<circle cx="388.23" cy="217.50" r="2.0" fill="#0a6aab"/>
<circle cx="393.44" cy="217.50" r="2.0" fill="#0a6aab"/>
<circle cx="398.65" cy="217.50" r="2.0" fill="#0a6aab"/>
<circle cx="403.87" cy="217.50" r="2.0" fill="#0a6aab"/>
<circle cx="409.09" cy="217.50" r="2.0" fill="#0a6aab"/>
<circle cx="414.30" cy="217.50" r="2.0" fill="#0a6aab"/>
<circle cx="419.51" cy="217.50" r="2.0" fill="#0a6aab"/>
<circle cx="424.73" cy="217.50" r="2.0" fill="#0a6aab"/>
<circle cx="429.94" cy="217.50" r="2.0" fill="#0a6aab"/>
<circle cx="435.16" cy="217.50" r="2.0" fill="#0a6aab"/>
<circle cx="440.38" cy="217.50" r="2.0" fill="#0a6aab"/>
<circle cx="445.59" cy="217.50" r="2.0" fill="#0a6aab"/>
<circle cx="450.81" cy="217.50" r="2.0" fill="#0a6aab"/>
<circle cx="456.02" cy="217.50" r="2.0" fill="#0a6aab"/>
<circle cx="461.24" cy="217.50" r="2.0" fill="#0a6aab"/>
<circle cx="466.45" cy="217.50" r="2.0" fill="#0a6aab"/>
<circle cx="471.67" cy="217.50" r="2.0" fill="#0a6aab"/>
<circle cx="476.88" cy="217.50" r="2.0" fill="#0a6aab"/>
<circle cx="482.10" cy="217.50" r="2.0" fill="#0a6aab"/>
<circle cx="487.31" cy="217.50" r="2.0" fill="#0a6aab"/>
<circle cx="492.53" cy="217.50" r="2.0" fill="#0a6aab"/>
<circle cx="497.74" cy="217.50" r="2.0" fill="#0a6aab"/>
<circle cx="502.96" cy="217.50" r="2.0" fill="#0a6aab"/>
<circle cx="508.17" cy="217.50" r="2.0" fill="#0a6aab"/>
<circle cx="513.38" cy="217.50" r="2.0" fill="#0a6aab"/>
<rect x="310.00" y="10.00" width="208.60" height="207.50" fill="none" stroke="#555555" stroke-width="1" style="mix-blend-mode:multiply"/>
<path d="M330.86 217.00v-1.7M330.86 10.50v1.7M351.72 217.00v-1.7M351.72 10.50v1.7M372.58 217.00v-1.7M372.58 10.50v1.7M393.44 217.00v-1.7M393.44 10.50v1.7M414.30 217.00v-1.7M414.30 10.50v1.7M435.16 217.00v-1.7M435.16 10.50v1.7M456.02 217.00v-1.7M456.02 10.50v1.7M476.88 217.00v-1.7M476.88 10.50v1.7M497.74 217.00v-1.7M497.74 10.50v1.7M310.50 187.86h1.7M518.10 187.86h-1.7M310.50 158.21h1.7M518.10 158.21h-1.7M310.50 128.57h1.7M518.10 128.57h-1.7M310.50 98.93h1.7M518.10 98.93h-1.7M310.50 69.29h1.7M518.10 69.29h-1.7M310.50 39.64h1.7M518.10 39.64h-1.7" stroke="#555555" stroke-width="1" fill="none" style="mix-blend-mode:multiply"/>
<path d="M308.00 74.03H312.00M310.00 72.03V76.03" stroke="#9400d3" stroke-width="1.1" fill="none"/>
<path d="M308.00 97.82L312.00 101.82M308.00 101.82L312.00 97.82" stroke="#009e73" stroke-width="1.1" fill="none"/>
<rect x="308.20" y="115.21" width="3.60" height="3.60" fill="#56b4e9"/>
<rect x="308.45" y="134.14" width="3.10" height="3.10" fill="none" stroke="#e69f00" stroke-width="1.3"/>
<rect x="307.80" y="171.73" width="4.40" height="4.40" fill="#f0e442"/>
<circle cx="310.00" cy="217.50" r="2.0" fill="#0a6aab"/>
<circle cx="315.21" cy="217.50" r="2.0" fill="#0a6aab"/>
<circle cx="320.43" cy="217.50" r="2.0" fill="#0a6aab"/>
<circle cx="325.64" cy="217.50" r="2.0" fill="#0a6aab"/>
<circle cx="330.86" cy="217.50" r="2.0" fill="#0a6aab"/>
<circle cx="336.07" cy="217.50" r="2.0" fill="#0a6aab"/>
<circle cx="341.29" cy="217.50" r="2.0" fill="#0a6aab"/>
<circle cx="346.50" cy="217.50" r="2.0" fill="#0a6aab"/>
<circle cx="351.72" cy="217.50" r="2.0" fill="#0a6aab"/>
<circle cx="356.94" cy="217.50" r="2.0" fill="#0a6aab"/>
<circle cx="362.15" cy="217.50" r="2.0" fill="#0a6aab"/>
<circle cx="367.37" cy="217.50" r="2.0" fill="#0a6aab"/>
<circle cx="372.58" cy="217.50" r="2.0" fill="#0a6aab"/>
<circle cx="377.80" cy="217.50" r="2.0" fill="#0a6aab"/>
<circle cx="383.01" cy="217.50" r="2.0" fill="#0a6aab"/>
<circle cx="388.23" cy="217.50" r="2.0" fill="#0a6aab"/>
<circle cx="393.44" cy="217.50" r="2.0" fill="#0a6aab"/>
<circle cx="398.65" cy="217.50" r="2.0" fill="#0a6aab"/>
<circle cx="403.87" cy="217.50" r="2.0" fill="#0a6aab"/>
<circle cx="409.09" cy="217.50" r="2.0" fill="#0a6aab"/>
<circle cx="414.30" cy="217.50" r="2.0" fill="#0a6aab"/>
<circle cx="419.51" cy="217.50" r="2.0" fill="#0a6aab"/>
<circle cx="424.73" cy="217.50" r="2.0" fill="#0a6aab"/>
<circle cx="429.94" cy="217.50" r="2.0" fill="#0a6aab"/>
<circle cx="435.16" cy="217.50" r="2.0" fill="#0a6aab"/>
<circle cx="440.38" cy="217.50" r="2.0" fill="#0a6aab"/>
<circle cx="445.59" cy="217.50" r="2.0" fill="#0a6aab"/>
<circle cx="450.81" cy="217.50" r="2.0" fill="#0a6aab"/>
<circle cx="456.02" cy="217.50" r="2.0" fill="#0a6aab"/>
<circle cx="461.24" cy="217.50" r="2.0" fill="#0a6aab"/>
<circle cx="466.45" cy="217.50" r="2.0" fill="#0a6aab"/>
<circle cx="471.67" cy="217.50" r="2.0" fill="#0a6aab"/>
<circle cx="476.88" cy="217.50" r="2.0" fill="#0a6aab"/>
<circle cx="482.10" cy="217.50" r="2.0" fill="#0a6aab"/>
<circle cx="487.31" cy="217.50" r="2.0" fill="#0a6aab"/>
<circle cx="492.53" cy="217.50" r="2.0" fill="#0a6aab"/>
<circle cx="497.74" cy="217.50" r="2.0" fill="#0a6aab"/>
<circle cx="502.96" cy="217.50" r="2.0" fill="#0a6aab"/>
<circle cx="508.17" cy="217.50" r="2.0" fill="#0a6aab"/>
<circle cx="513.38" cy="217.50" r="2.0" fill="#0a6aab"/>
<text x="39.70" y="503.80" text-anchor="middle">0</text>
<text x="60.66" y="503.80" text-anchor="middle">2</text>
<text x="81.62" y="503.80" text-anchor="middle">4</text>
<text x="102.58" y="503.80" text-anchor="middle">6</text>
<text x="123.54" y="503.80" text-anchor="middle">8</text>
<text x="144.50" y="503.80" text-anchor="middle">10</text>
<text x="165.46" y="503.80" text-anchor="middle">12</text>
<text x="186.42" y="503.80" text-anchor="middle">14</text>
<text x="207.38" y="503.80" text-anchor="middle">16</text>
<text x="228.34" y="503.80" text-anchor="middle">18</text>
<text x="249.30" y="503.80" text-anchor="middle">20</text>
<text x="32.10" y="494.20" text-anchor="end">0</text>
<text x="32.10" y="468.10" text-anchor="end">1</text>
<text x="32.10" y="442.00" text-anchor="end">2</text>
<text x="32.10" y="415.90" text-anchor="end">3</text>
<text x="32.10" y="389.80" text-anchor="end">4</text>
<text x="32.10" y="363.70" text-anchor="end">5</text>
<text x="32.10" y="337.60" text-anchor="end">6</text>
<text x="32.10" y="311.50" text-anchor="end">7</text>
<text x="32.10" y="285.40" text-anchor="end">8</text>
<text x="0" y="0" text-anchor="middle" transform="translate(21.90,388.40) rotate(-90)">Coordination number</text>
<text x="142.70" y="518.70" text-anchor="middle">Axial strain %</text>
<text x="147.05" y="542.40" text-anchor="middle" class="tag">(c)</text>
<text x="187.30" y="303.70" text-anchor="end">C100S0</text>
<path d="M194.10 300.80H218.20" stroke="#9400d3" stroke-width="1.5"/>
<path d="M204.15 300.80H208.15M206.15 298.80V302.80" stroke="#9400d3" stroke-width="1.1" fill="none"/>
<text x="187.30" y="313.68" text-anchor="end">C80S20</text>
<path d="M194.10 310.78H218.20" stroke="#009e73" stroke-width="1.5"/>
<path d="M204.15 308.78L208.15 312.78M204.15 312.78L208.15 308.78" stroke="#009e73" stroke-width="1.1" fill="none"/>
<text x="187.30" y="323.66" text-anchor="end">C60S40</text>
<path d="M194.10 320.76H218.20" stroke="#56b4e9" stroke-width="1.5"/>
<rect x="204.35" y="318.96" width="3.60" height="3.60" fill="#56b4e9"/>
<text x="187.30" y="333.64" text-anchor="end">C40S20</text>
<path d="M194.10 330.74H218.20" stroke="#e69f00" stroke-width="1.5"/>
<rect x="204.60" y="329.19" width="3.10" height="3.10" fill="none" stroke="#e69f00" stroke-width="1.3"/>
<text x="187.30" y="343.62" text-anchor="end">C20S80</text>
<path d="M194.10 340.72H218.20" stroke="#f0e442" stroke-width="1.5"/>
<rect x="203.95" y="338.52" width="4.40" height="4.40" fill="#f0e442"/>
<text x="187.30" y="353.60" text-anchor="end">C0S100</text>
<path d="M194.10 350.70H218.20" stroke="#0a6aab" stroke-width="1.5"/>
<circle cx="206.15" cy="350.70" r="2.0" fill="#0a6aab"/>
<path d="M39.70 491.80L44.94 491.80L50.18 491.80L55.42 491.80L60.66 491.80L65.90 491.80L71.14 491.80L76.38 491.80L81.62 491.80L86.86 491.80L92.10 491.80L97.34 491.80L102.58 491.80L107.82 491.80L113.06 491.80L118.30 491.80L123.54 491.80L128.78 491.80L134.02 491.80L139.26 491.80L144.50 491.80L149.74 491.80L154.98 491.80L160.22 491.80L165.46 491.80L170.70 491.80L175.94 491.80L181.18 491.80L186.42 491.80L191.66 491.80L196.90 491.80L202.14 491.80L207.38 491.80L212.62 491.80L217.86 491.80L223.10 491.80L228.34 491.80L233.58 491.80L238.82 491.80L244.06 491.80L249.30 491.80" stroke="#9400d3" stroke-width="1.35" fill="none" stroke-linejoin="round"/>
<path d="M37.70 491.80H41.70M39.70 489.80V493.80" stroke="#9400d3" stroke-width="1.1" fill="none"/>
<path d="M42.94 491.80H46.94M44.94 489.80V493.80" stroke="#9400d3" stroke-width="1.1" fill="none"/>
<path d="M48.18 491.80H52.18M50.18 489.80V493.80" stroke="#9400d3" stroke-width="1.1" fill="none"/>
<path d="M53.42 491.80H57.42M55.42 489.80V493.80" stroke="#9400d3" stroke-width="1.1" fill="none"/>
<path d="M58.66 491.80H62.66M60.66 489.80V493.80" stroke="#9400d3" stroke-width="1.1" fill="none"/>
<path d="M63.90 491.80H67.90M65.90 489.80V493.80" stroke="#9400d3" stroke-width="1.1" fill="none"/>
<path d="M69.14 491.80H73.14M71.14 489.80V493.80" stroke="#9400d3" stroke-width="1.1" fill="none"/>
<path d="M74.38 491.80H78.38M76.38 489.80V493.80" stroke="#9400d3" stroke-width="1.1" fill="none"/>
<path d="M79.62 491.80H83.62M81.62 489.80V493.80" stroke="#9400d3" stroke-width="1.1" fill="none"/>
<path d="M84.86 491.80H88.86M86.86 489.80V493.80" stroke="#9400d3" stroke-width="1.1" fill="none"/>
<path d="M90.10 491.80H94.10M92.10 489.80V493.80" stroke="#9400d3" stroke-width="1.1" fill="none"/>
<path d="M95.34 491.80H99.34M97.34 489.80V493.80" stroke="#9400d3" stroke-width="1.1" fill="none"/>
<path d="M100.58 491.80H104.58M102.58 489.80V493.80" stroke="#9400d3" stroke-width="1.1" fill="none"/>
<path d="M105.82 491.80H109.82M107.82 489.80V493.80" stroke="#9400d3" stroke-width="1.1" fill="none"/>
<path d="M111.06 491.80H115.06M113.06 489.80V493.80" stroke="#9400d3" stroke-width="1.1" fill="none"/>
<path d="M116.30 491.80H120.30M118.30 489.80V493.80" stroke="#9400d3" stroke-width="1.1" fill="none"/>
<path d="M121.54 491.80H125.54M123.54 489.80V493.80" stroke="#9400d3" stroke-width="1.1" fill="none"/>
<path d="M126.78 491.80H130.78M128.78 489.80V493.80" stroke="#9400d3" stroke-width="1.1" fill="none"/>
<path d="M132.02 491.80H136.02M134.02 489.80V493.80" stroke="#9400d3" stroke-width="1.1" fill="none"/>
<path d="M137.26 491.80H141.26M139.26 489.80V493.80" stroke="#9400d3" stroke-width="1.1" fill="none"/>
<path d="M142.50 491.80H146.50M144.50 489.80V493.80" stroke="#9400d3" stroke-width="1.1" fill="none"/>
<path d="M147.74 491.80H151.74M149.74 489.80V493.80" stroke="#9400d3" stroke-width="1.1" fill="none"/>
<path d="M152.98 491.80H156.98M154.98 489.80V493.80" stroke="#9400d3" stroke-width="1.1" fill="none"/>
<path d="M158.22 491.80H162.22M160.22 489.80V493.80" stroke="#9400d3" stroke-width="1.1" fill="none"/>
<path d="M163.46 491.80H167.46M165.46 489.80V493.80" stroke="#9400d3" stroke-width="1.1" fill="none"/>
<path d="M168.70 491.80H172.70M170.70 489.80V493.80" stroke="#9400d3" stroke-width="1.1" fill="none"/>
<path d="M173.94 491.80H177.94M175.94 489.80V493.80" stroke="#9400d3" stroke-width="1.1" fill="none"/>
<path d="M179.18 491.80H183.18M181.18 489.80V493.80" stroke="#9400d3" stroke-width="1.1" fill="none"/>
<path d="M184.42 491.80H188.42M186.42 489.80V493.80" stroke="#9400d3" stroke-width="1.1" fill="none"/>
<path d="M189.66 491.80H193.66M191.66 489.80V493.80" stroke="#9400d3" stroke-width="1.1" fill="none"/>
<path d="M194.90 491.80H198.90M196.90 489.80V493.80" stroke="#9400d3" stroke-width="1.1" fill="none"/>
<path d="M200.14 491.80H204.14M202.14 489.80V493.80" stroke="#9400d3" stroke-width="1.1" fill="none"/>
<path d="M205.38 491.80H209.38M207.38 489.80V493.80" stroke="#9400d3" stroke-width="1.1" fill="none"/>
<path d="M210.62 491.80H214.62M212.62 489.80V493.80" stroke="#9400d3" stroke-width="1.1" fill="none"/>
<path d="M215.86 491.80H219.86M217.86 489.80V493.80" stroke="#9400d3" stroke-width="1.1" fill="none"/>
<path d="M221.10 491.80H225.10M223.10 489.80V493.80" stroke="#9400d3" stroke-width="1.1" fill="none"/>
<path d="M226.34 491.80H230.34M228.34 489.80V493.80" stroke="#9400d3" stroke-width="1.1" fill="none"/>
<path d="M231.58 491.80H235.58M233.58 489.80V493.80" stroke="#9400d3" stroke-width="1.1" fill="none"/>
<path d="M236.82 491.80H240.82M238.82 489.80V493.80" stroke="#9400d3" stroke-width="1.1" fill="none"/>
<path d="M242.06 491.80H246.06M244.06 489.80V493.80" stroke="#9400d3" stroke-width="1.1" fill="none"/>
<path d="M247.30 491.80H251.30M249.30 489.80V493.80" stroke="#9400d3" stroke-width="1.1" fill="none"/>
<path d="M39.70 469.88L44.94 468.05L50.18 465.96L55.42 465.70L60.66 465.70L65.90 465.44L71.14 465.96L76.38 466.09L81.62 466.22L86.86 466.48L92.10 466.74L97.34 466.87L102.58 467.00L107.82 467.14L113.06 467.27L118.30 467.40L123.54 467.53L128.78 467.79L134.02 468.05L139.26 468.05L144.50 468.05L149.74 468.11L154.98 468.18L160.22 468.24L165.46 468.31L170.70 468.31L175.94 468.31L181.18 468.31L186.42 468.31L191.66 468.38L196.90 468.44L202.14 468.51L207.38 468.57L212.62 468.57L217.86 468.57L223.10 468.57L228.34 468.57L233.58 468.64L238.82 468.70L244.06 468.77L249.30 468.83" stroke="#009e73" stroke-width="1.35" fill="none" stroke-linejoin="round"/>
<path d="M37.70 467.88L41.70 471.88M37.70 471.88L41.70 467.88" stroke="#009e73" stroke-width="1.1" fill="none"/>
<path d="M42.94 466.05L46.94 470.05M42.94 470.05L46.94 466.05" stroke="#009e73" stroke-width="1.1" fill="none"/>
<path d="M48.18 463.96L52.18 467.96M48.18 467.96L52.18 463.96" stroke="#009e73" stroke-width="1.1" fill="none"/>
<path d="M53.42 463.70L57.42 467.70M53.42 467.70L57.42 463.70" stroke="#009e73" stroke-width="1.1" fill="none"/>
<path d="M58.66 463.70L62.66 467.70M58.66 467.70L62.66 463.70" stroke="#009e73" stroke-width="1.1" fill="none"/>
<path d="M63.90 463.44L67.90 467.44M63.90 467.44L67.90 463.44" stroke="#009e73" stroke-width="1.1" fill="none"/>
<path d="M69.14 463.96L73.14 467.96M69.14 467.96L73.14 463.96" stroke="#009e73" stroke-width="1.1" fill="none"/>
<path d="M74.38 464.09L78.38 468.09M74.38 468.09L78.38 464.09" stroke="#009e73" stroke-width="1.1" fill="none"/>
<path d="M79.62 464.22L83.62 468.22M79.62 468.22L83.62 464.22" stroke="#009e73" stroke-width="1.1" fill="none"/>
<path d="M84.86 464.48L88.86 468.48M84.86 468.48L88.86 464.48" stroke="#009e73" stroke-width="1.1" fill="none"/>
<path d="M90.10 464.74L94.10 468.74M90.10 468.74L94.10 464.74" stroke="#009e73" stroke-width="1.1" fill="none"/>
<path d="M95.34 464.87L99.34 468.87M95.34 468.87L99.34 464.87" stroke="#009e73" stroke-width="1.1" fill="none"/>
<path d="M100.58 465.00L104.58 469.00M100.58 469.00L104.58 465.00" stroke="#009e73" stroke-width="1.1" fill="none"/>
<path d="M105.82 465.14L109.82 469.14M105.82 469.14L109.82 465.14" stroke="#009e73" stroke-width="1.1" fill="none"/>
<path d="M111.06 465.27L115.06 469.27M111.06 469.27L115.06 465.27" stroke="#009e73" stroke-width="1.1" fill="none"/>
<path d="M116.30 465.40L120.30 469.40M116.30 469.40L120.30 465.40" stroke="#009e73" stroke-width="1.1" fill="none"/>
<path d="M121.54 465.53L125.54 469.53M121.54 469.53L125.54 465.53" stroke="#009e73" stroke-width="1.1" fill="none"/>
<path d="M126.78 465.79L130.78 469.79M126.78 469.79L130.78 465.79" stroke="#009e73" stroke-width="1.1" fill="none"/>
<path d="M132.02 466.05L136.02 470.05M132.02 470.05L136.02 466.05" stroke="#009e73" stroke-width="1.1" fill="none"/>
<path d="M137.26 466.05L141.26 470.05M137.26 470.05L141.26 466.05" stroke="#009e73" stroke-width="1.1" fill="none"/>
<path d="M142.50 466.05L146.50 470.05M142.50 470.05L146.50 466.05" stroke="#009e73" stroke-width="1.1" fill="none"/>
<path d="M147.74 466.11L151.74 470.11M147.74 470.11L151.74 466.11" stroke="#009e73" stroke-width="1.1" fill="none"/>
<path d="M152.98 466.18L156.98 470.18M152.98 470.18L156.98 466.18" stroke="#009e73" stroke-width="1.1" fill="none"/>
<path d="M158.22 466.24L162.22 470.24M158.22 470.24L162.22 466.24" stroke="#009e73" stroke-width="1.1" fill="none"/>
<path d="M163.46 466.31L167.46 470.31M163.46 470.31L167.46 466.31" stroke="#009e73" stroke-width="1.1" fill="none"/>
<path d="M168.70 466.31L172.70 470.31M168.70 470.31L172.70 466.31" stroke="#009e73" stroke-width="1.1" fill="none"/>
<path d="M173.94 466.31L177.94 470.31M173.94 470.31L177.94 466.31" stroke="#009e73" stroke-width="1.1" fill="none"/>
<path d="M179.18 466.31L183.18 470.31M179.18 470.31L183.18 466.31" stroke="#009e73" stroke-width="1.1" fill="none"/>
<path d="M184.42 466.31L188.42 470.31M184.42 470.31L188.42 466.31" stroke="#009e73" stroke-width="1.1" fill="none"/>
<path d="M189.66 466.38L193.66 470.38M189.66 470.38L193.66 466.38" stroke="#009e73" stroke-width="1.1" fill="none"/>
<path d="M194.90 466.44L198.90 470.44M194.90 470.44L198.90 466.44" stroke="#009e73" stroke-width="1.1" fill="none"/>
<path d="M200.14 466.51L204.14 470.51M200.14 470.51L204.14 466.51" stroke="#009e73" stroke-width="1.1" fill="none"/>
<path d="M205.38 466.57L209.38 470.57M205.38 470.57L209.38 466.57" stroke="#009e73" stroke-width="1.1" fill="none"/>
<path d="M210.62 466.57L214.62 470.57M210.62 470.57L214.62 466.57" stroke="#009e73" stroke-width="1.1" fill="none"/>
<path d="M215.86 466.57L219.86 470.57M215.86 470.57L219.86 466.57" stroke="#009e73" stroke-width="1.1" fill="none"/>
<path d="M221.10 466.57L225.10 470.57M221.10 470.57L225.10 466.57" stroke="#009e73" stroke-width="1.1" fill="none"/>
<path d="M226.34 466.57L230.34 470.57M226.34 470.57L230.34 466.57" stroke="#009e73" stroke-width="1.1" fill="none"/>
<path d="M231.58 466.64L235.58 470.64M231.58 470.64L235.58 466.64" stroke="#009e73" stroke-width="1.1" fill="none"/>
<path d="M236.82 466.70L240.82 470.70M236.82 470.70L240.82 466.70" stroke="#009e73" stroke-width="1.1" fill="none"/>
<path d="M242.06 466.77L246.06 470.77M242.06 470.77L246.06 466.77" stroke="#009e73" stroke-width="1.1" fill="none"/>
<path d="M247.30 466.83L251.30 470.83M247.30 470.83L251.30 466.83" stroke="#009e73" stroke-width="1.1" fill="none"/>
<path d="M39.70 437.77L44.94 434.90L50.18 436.21L55.42 437.25L60.66 438.30L65.90 439.60L71.14 440.64L76.38 440.91L81.62 441.43L86.86 441.69L92.10 441.95L97.34 442.21L102.58 442.47L107.82 442.99L113.06 443.51L118.30 443.65L123.54 443.78L128.78 443.91L134.02 444.04L139.26 444.17L144.50 444.30L149.74 444.36L154.98 444.43L160.22 444.49L165.46 444.56L170.70 444.62L175.94 444.69L181.18 444.75L186.42 444.82L191.66 444.95L196.90 445.08L202.14 445.21L207.38 445.34L212.62 445.41L217.86 445.47L223.10 445.54L228.34 445.60L233.58 445.67L238.82 445.73L244.06 445.80L249.30 445.86" stroke="#56b4e9" stroke-width="1.35" fill="none" stroke-linejoin="round"/>
<rect x="37.90" y="435.97" width="3.60" height="3.60" fill="#56b4e9"/>
<rect x="43.14" y="433.10" width="3.60" height="3.60" fill="#56b4e9"/>
<rect x="48.38" y="434.41" width="3.60" height="3.60" fill="#56b4e9"/>
<rect x="53.62" y="435.45" width="3.60" height="3.60" fill="#56b4e9"/>
<rect x="58.86" y="436.50" width="3.60" height="3.60" fill="#56b4e9"/>
<rect x="64.10" y="437.80" width="3.60" height="3.60" fill="#56b4e9"/>
<rect x="69.34" y="438.84" width="3.60" height="3.60" fill="#56b4e9"/>
<rect x="74.58" y="439.11" width="3.60" height="3.60" fill="#56b4e9"/>
<rect x="79.82" y="439.63" width="3.60" height="3.60" fill="#56b4e9"/>
<rect x="85.06" y="439.89" width="3.60" height="3.60" fill="#56b4e9"/>
<rect x="90.30" y="440.15" width="3.60" height="3.60" fill="#56b4e9"/>
<rect x="95.54" y="440.41" width="3.60" height="3.60" fill="#56b4e9"/>
<rect x="100.78" y="440.67" width="3.60" height="3.60" fill="#56b4e9"/>
<rect x="106.02" y="441.19" width="3.60" height="3.60" fill="#56b4e9"/>
<rect x="111.26" y="441.71" width="3.60" height="3.60" fill="#56b4e9"/>
<rect x="116.50" y="441.85" width="3.60" height="3.60" fill="#56b4e9"/>
<rect x="121.74" y="441.98" width="3.60" height="3.60" fill="#56b4e9"/>
<rect x="126.98" y="442.11" width="3.60" height="3.60" fill="#56b4e9"/>
<rect x="132.22" y="442.24" width="3.60" height="3.60" fill="#56b4e9"/>
<rect x="137.46" y="442.37" width="3.60" height="3.60" fill="#56b4e9"/>
<rect x="142.70" y="442.50" width="3.60" height="3.60" fill="#56b4e9"/>
<rect x="147.94" y="442.56" width="3.60" height="3.60" fill="#56b4e9"/>
<rect x="153.18" y="442.63" width="3.60" height="3.60" fill="#56b4e9"/>
<rect x="158.42" y="442.69" width="3.60" height="3.60" fill="#56b4e9"/>
<rect x="163.66" y="442.76" width="3.60" height="3.60" fill="#56b4e9"/>
<rect x="168.90" y="442.82" width="3.60" height="3.60" fill="#56b4e9"/>
<rect x="174.14" y="442.89" width="3.60" height="3.60" fill="#56b4e9"/>
<rect x="179.38" y="442.95" width="3.60" height="3.60" fill="#56b4e9"/>
<rect x="184.62" y="443.02" width="3.60" height="3.60" fill="#56b4e9"/>
<rect x="189.86" y="443.15" width="3.60" height="3.60" fill="#56b4e9"/>
<rect x="195.10" y="443.28" width="3.60" height="3.60" fill="#56b4e9"/>
<rect x="200.34" y="443.41" width="3.60" height="3.60" fill="#56b4e9"/>
<rect x="205.58" y="443.54" width="3.60" height="3.60" fill="#56b4e9"/>
<rect x="210.82" y="443.61" width="3.60" height="3.60" fill="#56b4e9"/>
<rect x="216.06" y="443.67" width="3.60" height="3.60" fill="#56b4e9"/>
<rect x="221.30" y="443.74" width="3.60" height="3.60" fill="#56b4e9"/>
<rect x="226.54" y="443.80" width="3.60" height="3.60" fill="#56b4e9"/>
<rect x="231.78" y="443.87" width="3.60" height="3.60" fill="#56b4e9"/>
<rect x="237.02" y="443.93" width="3.60" height="3.60" fill="#56b4e9"/>
<rect x="242.26" y="444.00" width="3.60" height="3.60" fill="#56b4e9"/>
<rect x="247.50" y="444.06" width="3.60" height="3.60" fill="#56b4e9"/>
<path d="M39.70 393.40L44.94 392.36L50.18 399.14L55.42 404.89L60.66 409.32L65.90 411.41L71.14 413.24L76.38 414.54L81.62 415.59L86.86 416.37L92.10 417.15L97.34 417.42L102.58 417.68L107.82 417.94L113.06 418.20L118.30 418.46L123.54 418.72L128.78 418.98L134.02 419.24L139.26 419.37L144.50 419.50L149.74 419.63L154.98 419.76L160.22 419.89L165.46 420.02L170.70 420.22L175.94 420.42L181.18 420.61L186.42 420.81L191.66 420.94L196.90 421.07L202.14 421.20L207.38 421.33L212.62 421.59L217.86 421.85L223.10 421.72L228.34 421.59L233.58 421.46L238.82 421.33L244.06 421.20L249.30 421.07" stroke="#e69f00" stroke-width="1.35" fill="none" stroke-linejoin="round"/>
<rect x="38.15" y="391.85" width="3.10" height="3.10" fill="none" stroke="#e69f00" stroke-width="1.3"/>
<rect x="43.39" y="390.81" width="3.10" height="3.10" fill="none" stroke="#e69f00" stroke-width="1.3"/>
<rect x="48.63" y="397.59" width="3.10" height="3.10" fill="none" stroke="#e69f00" stroke-width="1.3"/>
<rect x="53.87" y="403.34" width="3.10" height="3.10" fill="none" stroke="#e69f00" stroke-width="1.3"/>
<rect x="59.11" y="407.77" width="3.10" height="3.10" fill="none" stroke="#e69f00" stroke-width="1.3"/>
<rect x="64.35" y="409.86" width="3.10" height="3.10" fill="none" stroke="#e69f00" stroke-width="1.3"/>
<rect x="69.59" y="411.69" width="3.10" height="3.10" fill="none" stroke="#e69f00" stroke-width="1.3"/>
<rect x="74.83" y="412.99" width="3.10" height="3.10" fill="none" stroke="#e69f00" stroke-width="1.3"/>
<rect x="80.07" y="414.04" width="3.10" height="3.10" fill="none" stroke="#e69f00" stroke-width="1.3"/>
<rect x="85.31" y="414.82" width="3.10" height="3.10" fill="none" stroke="#e69f00" stroke-width="1.3"/>
<rect x="90.55" y="415.60" width="3.10" height="3.10" fill="none" stroke="#e69f00" stroke-width="1.3"/>
<rect x="95.79" y="415.87" width="3.10" height="3.10" fill="none" stroke="#e69f00" stroke-width="1.3"/>
<rect x="101.03" y="416.13" width="3.10" height="3.10" fill="none" stroke="#e69f00" stroke-width="1.3"/>
<rect x="106.27" y="416.39" width="3.10" height="3.10" fill="none" stroke="#e69f00" stroke-width="1.3"/>
<rect x="111.51" y="416.65" width="3.10" height="3.10" fill="none" stroke="#e69f00" stroke-width="1.3"/>
<rect x="116.75" y="416.91" width="3.10" height="3.10" fill="none" stroke="#e69f00" stroke-width="1.3"/>
<rect x="121.99" y="417.17" width="3.10" height="3.10" fill="none" stroke="#e69f00" stroke-width="1.3"/>
<rect x="127.23" y="417.43" width="3.10" height="3.10" fill="none" stroke="#e69f00" stroke-width="1.3"/>
<rect x="132.47" y="417.69" width="3.10" height="3.10" fill="none" stroke="#e69f00" stroke-width="1.3"/>
<rect x="137.71" y="417.82" width="3.10" height="3.10" fill="none" stroke="#e69f00" stroke-width="1.3"/>
<rect x="142.95" y="417.95" width="3.10" height="3.10" fill="none" stroke="#e69f00" stroke-width="1.3"/>
<rect x="148.19" y="418.08" width="3.10" height="3.10" fill="none" stroke="#e69f00" stroke-width="1.3"/>
<rect x="153.43" y="418.21" width="3.10" height="3.10" fill="none" stroke="#e69f00" stroke-width="1.3"/>
<rect x="158.67" y="418.34" width="3.10" height="3.10" fill="none" stroke="#e69f00" stroke-width="1.3"/>
<rect x="163.91" y="418.47" width="3.10" height="3.10" fill="none" stroke="#e69f00" stroke-width="1.3"/>
<rect x="169.15" y="418.67" width="3.10" height="3.10" fill="none" stroke="#e69f00" stroke-width="1.3"/>
<rect x="174.39" y="418.87" width="3.10" height="3.10" fill="none" stroke="#e69f00" stroke-width="1.3"/>
<rect x="179.63" y="419.06" width="3.10" height="3.10" fill="none" stroke="#e69f00" stroke-width="1.3"/>
<rect x="184.87" y="419.26" width="3.10" height="3.10" fill="none" stroke="#e69f00" stroke-width="1.3"/>
<rect x="190.11" y="419.39" width="3.10" height="3.10" fill="none" stroke="#e69f00" stroke-width="1.3"/>
<rect x="195.35" y="419.52" width="3.10" height="3.10" fill="none" stroke="#e69f00" stroke-width="1.3"/>
<rect x="200.59" y="419.65" width="3.10" height="3.10" fill="none" stroke="#e69f00" stroke-width="1.3"/>
<rect x="205.83" y="419.78" width="3.10" height="3.10" fill="none" stroke="#e69f00" stroke-width="1.3"/>
<rect x="211.07" y="420.04" width="3.10" height="3.10" fill="none" stroke="#e69f00" stroke-width="1.3"/>
<rect x="216.31" y="420.30" width="3.10" height="3.10" fill="none" stroke="#e69f00" stroke-width="1.3"/>
<rect x="221.55" y="420.17" width="3.10" height="3.10" fill="none" stroke="#e69f00" stroke-width="1.3"/>
<rect x="226.79" y="420.04" width="3.10" height="3.10" fill="none" stroke="#e69f00" stroke-width="1.3"/>
<rect x="232.03" y="419.91" width="3.10" height="3.10" fill="none" stroke="#e69f00" stroke-width="1.3"/>
<rect x="237.27" y="419.78" width="3.10" height="3.10" fill="none" stroke="#e69f00" stroke-width="1.3"/>
<rect x="242.51" y="419.65" width="3.10" height="3.10" fill="none" stroke="#e69f00" stroke-width="1.3"/>
<rect x="247.75" y="419.52" width="3.10" height="3.10" fill="none" stroke="#e69f00" stroke-width="1.3"/>
<path d="M39.70 351.12L44.94 351.12L50.18 356.34L55.42 365.74L60.66 372.26L65.90 376.44L71.14 379.31L76.38 381.66L81.62 384.01L86.86 385.31L92.10 386.62L97.34 387.92L102.58 388.70L107.82 389.75L113.06 390.79L118.30 391.31L123.54 392.10L128.78 392.62L134.02 392.88L139.26 393.27L144.50 393.66L149.74 393.93L154.98 394.19L160.22 394.45L165.46 394.71L170.70 394.97L175.94 395.23L181.18 395.49L186.42 395.75L191.66 395.75L196.90 395.75L202.14 395.75L207.38 395.75L212.62 395.75L217.86 395.75L223.10 395.75L228.34 395.75L233.58 395.75L238.82 395.75L244.06 395.75L249.30 395.75" stroke="#f0e442" stroke-width="1.35" fill="none" stroke-linejoin="round"/>
<rect x="37.50" y="348.92" width="4.40" height="4.40" fill="#f0e442"/>
<rect x="42.74" y="348.92" width="4.40" height="4.40" fill="#f0e442"/>
<rect x="47.98" y="354.14" width="4.40" height="4.40" fill="#f0e442"/>
<rect x="53.22" y="363.54" width="4.40" height="4.40" fill="#f0e442"/>
<rect x="58.46" y="370.06" width="4.40" height="4.40" fill="#f0e442"/>
<rect x="63.70" y="374.24" width="4.40" height="4.40" fill="#f0e442"/>
<rect x="68.94" y="377.11" width="4.40" height="4.40" fill="#f0e442"/>
<rect x="74.18" y="379.46" width="4.40" height="4.40" fill="#f0e442"/>
<rect x="79.42" y="381.81" width="4.40" height="4.40" fill="#f0e442"/>
<rect x="84.66" y="383.11" width="4.40" height="4.40" fill="#f0e442"/>
<rect x="89.90" y="384.42" width="4.40" height="4.40" fill="#f0e442"/>
<rect x="95.14" y="385.72" width="4.40" height="4.40" fill="#f0e442"/>
<rect x="100.38" y="386.50" width="4.40" height="4.40" fill="#f0e442"/>
<rect x="105.62" y="387.55" width="4.40" height="4.40" fill="#f0e442"/>
<rect x="110.86" y="388.59" width="4.40" height="4.40" fill="#f0e442"/>
<rect x="116.10" y="389.12" width="4.40" height="4.40" fill="#f0e442"/>
<rect x="121.34" y="389.90" width="4.40" height="4.40" fill="#f0e442"/>
<rect x="126.58" y="390.42" width="4.40" height="4.40" fill="#f0e442"/>
<rect x="131.82" y="390.68" width="4.40" height="4.40" fill="#f0e442"/>
<rect x="137.06" y="391.07" width="4.40" height="4.40" fill="#f0e442"/>
<rect x="142.30" y="391.46" width="4.40" height="4.40" fill="#f0e442"/>
<rect x="147.54" y="391.73" width="4.40" height="4.40" fill="#f0e442"/>
<rect x="152.78" y="391.99" width="4.40" height="4.40" fill="#f0e442"/>
<rect x="158.02" y="392.25" width="4.40" height="4.40" fill="#f0e442"/>
<rect x="163.26" y="392.51" width="4.40" height="4.40" fill="#f0e442"/>
<rect x="168.50" y="392.77" width="4.40" height="4.40" fill="#f0e442"/>
<rect x="173.74" y="393.03" width="4.40" height="4.40" fill="#f0e442"/>
<rect x="178.98" y="393.29" width="4.40" height="4.40" fill="#f0e442"/>
<rect x="184.22" y="393.55" width="4.40" height="4.40" fill="#f0e442"/>
<rect x="189.46" y="393.55" width="4.40" height="4.40" fill="#f0e442"/>
<rect x="194.70" y="393.55" width="4.40" height="4.40" fill="#f0e442"/>
<rect x="199.94" y="393.55" width="4.40" height="4.40" fill="#f0e442"/>
<rect x="205.18" y="393.55" width="4.40" height="4.40" fill="#f0e442"/>
<rect x="210.42" y="393.55" width="4.40" height="4.40" fill="#f0e442"/>
<rect x="215.66" y="393.55" width="4.40" height="4.40" fill="#f0e442"/>
<rect x="220.90" y="393.55" width="4.40" height="4.40" fill="#f0e442"/>
<rect x="226.14" y="393.55" width="4.40" height="4.40" fill="#f0e442"/>
<rect x="231.38" y="393.55" width="4.40" height="4.40" fill="#f0e442"/>
<rect x="236.62" y="393.55" width="4.40" height="4.40" fill="#f0e442"/>
<rect x="241.86" y="393.55" width="4.40" height="4.40" fill="#f0e442"/>
<rect x="247.10" y="393.55" width="4.40" height="4.40" fill="#f0e442"/>
<path d="M39.70 309.36L44.94 308.06L50.18 313.54L55.42 323.19L60.66 332.59L65.90 340.16L71.14 345.12L76.38 349.56L81.62 352.17L86.86 355.30L92.10 356.86L97.34 358.69L102.58 360.26L107.82 361.56L113.06 362.08L118.30 363.13L123.54 363.91L128.78 364.69L134.02 365.22L139.26 366.00L144.50 366.52L149.74 367.04L154.98 367.56L160.22 367.82L165.46 368.09L170.70 368.35L175.94 368.61L181.18 369.13L186.42 369.39L191.66 369.65L196.90 369.39L202.14 369.91L207.38 370.17L212.62 370.70L217.86 370.70L223.10 371.22L228.34 370.96L233.58 370.96L238.82 370.70L244.06 370.17" stroke="#0a6aab" stroke-width="1.35" fill="none" stroke-linejoin="round"/>
<circle cx="39.70" cy="309.36" r="2.0" fill="#0a6aab"/>
<circle cx="44.94" cy="308.06" r="2.0" fill="#0a6aab"/>
<circle cx="50.18" cy="313.54" r="2.0" fill="#0a6aab"/>
<circle cx="55.42" cy="323.19" r="2.0" fill="#0a6aab"/>
<circle cx="60.66" cy="332.59" r="2.0" fill="#0a6aab"/>
<circle cx="65.90" cy="340.16" r="2.0" fill="#0a6aab"/>
<circle cx="71.14" cy="345.12" r="2.0" fill="#0a6aab"/>
<circle cx="76.38" cy="349.56" r="2.0" fill="#0a6aab"/>
<circle cx="81.62" cy="352.17" r="2.0" fill="#0a6aab"/>
<circle cx="86.86" cy="355.30" r="2.0" fill="#0a6aab"/>
<circle cx="92.10" cy="356.86" r="2.0" fill="#0a6aab"/>
<circle cx="97.34" cy="358.69" r="2.0" fill="#0a6aab"/>
<circle cx="102.58" cy="360.26" r="2.0" fill="#0a6aab"/>
<circle cx="107.82" cy="361.56" r="2.0" fill="#0a6aab"/>
<circle cx="113.06" cy="362.08" r="2.0" fill="#0a6aab"/>
<circle cx="118.30" cy="363.13" r="2.0" fill="#0a6aab"/>
<circle cx="123.54" cy="363.91" r="2.0" fill="#0a6aab"/>
<circle cx="128.78" cy="364.69" r="2.0" fill="#0a6aab"/>
<circle cx="134.02" cy="365.22" r="2.0" fill="#0a6aab"/>
<circle cx="139.26" cy="366.00" r="2.0" fill="#0a6aab"/>
<circle cx="144.50" cy="366.52" r="2.0" fill="#0a6aab"/>
<circle cx="149.74" cy="367.04" r="2.0" fill="#0a6aab"/>
<circle cx="154.98" cy="367.56" r="2.0" fill="#0a6aab"/>
<circle cx="160.22" cy="367.82" r="2.0" fill="#0a6aab"/>
<circle cx="165.46" cy="368.09" r="2.0" fill="#0a6aab"/>
<circle cx="170.70" cy="368.35" r="2.0" fill="#0a6aab"/>
<circle cx="175.94" cy="368.61" r="2.0" fill="#0a6aab"/>
<circle cx="181.18" cy="369.13" r="2.0" fill="#0a6aab"/>
<circle cx="186.42" cy="369.39" r="2.0" fill="#0a6aab"/>
<circle cx="191.66" cy="369.65" r="2.0" fill="#0a6aab"/>
<circle cx="196.90" cy="369.39" r="2.0" fill="#0a6aab"/>
<circle cx="202.14" cy="369.91" r="2.0" fill="#0a6aab"/>
<circle cx="207.38" cy="370.17" r="2.0" fill="#0a6aab"/>
<circle cx="212.62" cy="370.70" r="2.0" fill="#0a6aab"/>
<circle cx="217.86" cy="370.70" r="2.0" fill="#0a6aab"/>
<circle cx="223.10" cy="371.22" r="2.0" fill="#0a6aab"/>
<circle cx="228.34" cy="370.96" r="2.0" fill="#0a6aab"/>
<circle cx="233.58" cy="370.96" r="2.0" fill="#0a6aab"/>
<circle cx="238.82" cy="370.70" r="2.0" fill="#0a6aab"/>
<circle cx="244.06" cy="370.17" r="2.0" fill="#0a6aab"/>
<rect x="39.70" y="283.00" width="209.60" height="208.80" fill="none" stroke="#555555" stroke-width="1" style="mix-blend-mode:multiply"/>
<path d="M60.66 491.30v-1.7M60.66 283.50v1.7M81.62 491.30v-1.7M81.62 283.50v1.7M102.58 491.30v-1.7M102.58 283.50v1.7M123.54 491.30v-1.7M123.54 283.50v1.7M144.50 491.30v-1.7M144.50 283.50v1.7M165.46 491.30v-1.7M165.46 283.50v1.7M186.42 491.30v-1.7M186.42 283.50v1.7M207.38 491.30v-1.7M207.38 283.50v1.7M228.34 491.30v-1.7M228.34 283.50v1.7M40.20 465.70h1.7M248.80 465.70h-1.7M40.20 439.60h1.7M248.80 439.60h-1.7M40.20 413.50h1.7M248.80 413.50h-1.7M40.20 387.40h1.7M248.80 387.40h-1.7M40.20 361.30h1.7M248.80 361.30h-1.7M40.20 335.20h1.7M248.80 335.20h-1.7M40.20 309.10h1.7M248.80 309.10h-1.7" stroke="#555555" stroke-width="1" fill="none" style="mix-blend-mode:multiply"/>
<path d="M37.70 491.80H41.70M39.70 489.80V493.80" stroke="#9400d3" stroke-width="1.1" fill="none"/>
<path d="M42.94 491.80H46.94M44.94 489.80V493.80" stroke="#9400d3" stroke-width="1.1" fill="none"/>
<path d="M48.18 491.80H52.18M50.18 489.80V493.80" stroke="#9400d3" stroke-width="1.1" fill="none"/>
<path d="M53.42 491.80H57.42M55.42 489.80V493.80" stroke="#9400d3" stroke-width="1.1" fill="none"/>
<path d="M58.66 491.80H62.66M60.66 489.80V493.80" stroke="#9400d3" stroke-width="1.1" fill="none"/>
<path d="M63.90 491.80H67.90M65.90 489.80V493.80" stroke="#9400d3" stroke-width="1.1" fill="none"/>
<path d="M69.14 491.80H73.14M71.14 489.80V493.80" stroke="#9400d3" stroke-width="1.1" fill="none"/>
<path d="M74.38 491.80H78.38M76.38 489.80V493.80" stroke="#9400d3" stroke-width="1.1" fill="none"/>
<path d="M79.62 491.80H83.62M81.62 489.80V493.80" stroke="#9400d3" stroke-width="1.1" fill="none"/>
<path d="M84.86 491.80H88.86M86.86 489.80V493.80" stroke="#9400d3" stroke-width="1.1" fill="none"/>
<path d="M90.10 491.80H94.10M92.10 489.80V493.80" stroke="#9400d3" stroke-width="1.1" fill="none"/>
<path d="M95.34 491.80H99.34M97.34 489.80V493.80" stroke="#9400d3" stroke-width="1.1" fill="none"/>
<path d="M100.58 491.80H104.58M102.58 489.80V493.80" stroke="#9400d3" stroke-width="1.1" fill="none"/>
<path d="M105.82 491.80H109.82M107.82 489.80V493.80" stroke="#9400d3" stroke-width="1.1" fill="none"/>
<path d="M111.06 491.80H115.06M113.06 489.80V493.80" stroke="#9400d3" stroke-width="1.1" fill="none"/>
<path d="M116.30 491.80H120.30M118.30 489.80V493.80" stroke="#9400d3" stroke-width="1.1" fill="none"/>
<path d="M121.54 491.80H125.54M123.54 489.80V493.80" stroke="#9400d3" stroke-width="1.1" fill="none"/>
<path d="M126.78 491.80H130.78M128.78 489.80V493.80" stroke="#9400d3" stroke-width="1.1" fill="none"/>
<path d="M132.02 491.80H136.02M134.02 489.80V493.80" stroke="#9400d3" stroke-width="1.1" fill="none"/>
<path d="M137.26 491.80H141.26M139.26 489.80V493.80" stroke="#9400d3" stroke-width="1.1" fill="none"/>
<path d="M142.50 491.80H146.50M144.50 489.80V493.80" stroke="#9400d3" stroke-width="1.1" fill="none"/>
<path d="M147.74 491.80H151.74M149.74 489.80V493.80" stroke="#9400d3" stroke-width="1.1" fill="none"/>
<path d="M152.98 491.80H156.98M154.98 489.80V493.80" stroke="#9400d3" stroke-width="1.1" fill="none"/>
<path d="M158.22 491.80H162.22M160.22 489.80V493.80" stroke="#9400d3" stroke-width="1.1" fill="none"/>
<path d="M163.46 491.80H167.46M165.46 489.80V493.80" stroke="#9400d3" stroke-width="1.1" fill="none"/>
<path d="M168.70 491.80H172.70M170.70 489.80V493.80" stroke="#9400d3" stroke-width="1.1" fill="none"/>
<path d="M173.94 491.80H177.94M175.94 489.80V493.80" stroke="#9400d3" stroke-width="1.1" fill="none"/>
<path d="M179.18 491.80H183.18M181.18 489.80V493.80" stroke="#9400d3" stroke-width="1.1" fill="none"/>
<path d="M184.42 491.80H188.42M186.42 489.80V493.80" stroke="#9400d3" stroke-width="1.1" fill="none"/>
<path d="M189.66 491.80H193.66M191.66 489.80V493.80" stroke="#9400d3" stroke-width="1.1" fill="none"/>
<path d="M194.90 491.80H198.90M196.90 489.80V493.80" stroke="#9400d3" stroke-width="1.1" fill="none"/>
<path d="M200.14 491.80H204.14M202.14 489.80V493.80" stroke="#9400d3" stroke-width="1.1" fill="none"/>
<path d="M205.38 491.80H209.38M207.38 489.80V493.80" stroke="#9400d3" stroke-width="1.1" fill="none"/>
<path d="M210.62 491.80H214.62M212.62 489.80V493.80" stroke="#9400d3" stroke-width="1.1" fill="none"/>
<path d="M215.86 491.80H219.86M217.86 489.80V493.80" stroke="#9400d3" stroke-width="1.1" fill="none"/>
<path d="M221.10 491.80H225.10M223.10 489.80V493.80" stroke="#9400d3" stroke-width="1.1" fill="none"/>
<path d="M226.34 491.80H230.34M228.34 489.80V493.80" stroke="#9400d3" stroke-width="1.1" fill="none"/>
<path d="M231.58 491.80H235.58M233.58 489.80V493.80" stroke="#9400d3" stroke-width="1.1" fill="none"/>
<path d="M236.82 491.80H240.82M238.82 489.80V493.80" stroke="#9400d3" stroke-width="1.1" fill="none"/>
<path d="M242.06 491.80H246.06M244.06 489.80V493.80" stroke="#9400d3" stroke-width="1.1" fill="none"/>
<path d="M247.30 491.80H251.30M249.30 489.80V493.80" stroke="#9400d3" stroke-width="1.1" fill="none"/>
<path d="M37.70 467.88L41.70 471.88M37.70 471.88L41.70 467.88" stroke="#009e73" stroke-width="1.1" fill="none"/>
<rect x="37.90" y="435.97" width="3.60" height="3.60" fill="#56b4e9"/>
<rect x="38.15" y="391.85" width="3.10" height="3.10" fill="none" stroke="#e69f00" stroke-width="1.3"/>
<rect x="37.50" y="348.92" width="4.40" height="4.40" fill="#f0e442"/>
<circle cx="39.70" cy="309.36" r="2.0" fill="#0a6aab"/>
<text x="310.40" y="503.40" text-anchor="middle">0</text>
<text x="331.25" y="503.40" text-anchor="middle">2</text>
<text x="352.10" y="503.40" text-anchor="middle">4</text>
<text x="372.95" y="503.40" text-anchor="middle">6</text>
<text x="393.80" y="503.40" text-anchor="middle">8</text>
<text x="414.65" y="503.40" text-anchor="middle">10</text>
<text x="435.50" y="503.40" text-anchor="middle">12</text>
<text x="456.35" y="503.40" text-anchor="middle">14</text>
<text x="477.20" y="503.40" text-anchor="middle">16</text>
<text x="498.05" y="503.40" text-anchor="middle">18</text>
<text x="518.90" y="503.40" text-anchor="middle">20</text>
<text x="302.80" y="493.20" text-anchor="end">0</text>
<text x="302.80" y="467.29" text-anchor="end">0.05</text>
<text x="302.80" y="441.38" text-anchor="end">0.1</text>
<text x="302.80" y="415.46" text-anchor="end">0.15</text>
<text x="302.80" y="389.55" text-anchor="end">0.2</text>
<text x="302.80" y="363.64" text-anchor="end">0.25</text>
<text x="302.80" y="337.72" text-anchor="end">0.3</text>
<text x="302.80" y="311.81" text-anchor="end">0.35</text>
<text x="302.80" y="285.90" text-anchor="end">0.4</text>
<text x="0" y="0" text-anchor="middle" transform="translate(276.80,387.40) rotate(-90)">Coordination number</text>
<text x="412.70" y="517.80" text-anchor="middle">Axial strain %</text>
<text x="417.95" y="540.90" text-anchor="middle" class="tag">(d)</text>
<text x="442.00" y="343.20" text-anchor="end">C100S0</text>
<path d="M448.60 340.30H472.50" stroke="#9400d3" stroke-width="1.5"/>
<path d="M458.55 340.30H462.55M460.55 338.30V342.30" stroke="#9400d3" stroke-width="1.1" fill="none"/>
<text x="442.00" y="353.06" text-anchor="end">C80S20</text>
<path d="M448.60 350.16H472.50" stroke="#009e73" stroke-width="1.5"/>
<path d="M458.55 348.16L462.55 352.16M458.55 352.16L462.55 348.16" stroke="#009e73" stroke-width="1.1" fill="none"/>
<text x="442.00" y="362.92" text-anchor="end">C60S40</text>
<path d="M448.60 360.02H472.50" stroke="#56b4e9" stroke-width="1.5"/>
<rect x="458.75" y="358.22" width="3.60" height="3.60" fill="#56b4e9"/>
<text x="442.00" y="372.78" text-anchor="end">C40S20</text>
<path d="M448.60 369.88H472.50" stroke="#e69f00" stroke-width="1.5"/>
<rect x="459.00" y="368.33" width="3.10" height="3.10" fill="none" stroke="#e69f00" stroke-width="1.3"/>
<text x="442.00" y="382.64" text-anchor="end">C20S80</text>
<path d="M448.60 379.74H472.50" stroke="#f0e442" stroke-width="1.5"/>
<rect x="458.35" y="377.54" width="4.40" height="4.40" fill="#f0e442"/>
<text x="442.00" y="392.50" text-anchor="end">C0S100</text>
<path d="M448.60 389.60H472.50" stroke="#0a6aab" stroke-width="1.5"/>
<circle cx="460.55" cy="389.60" r="2.0" fill="#0a6aab"/>
<path d="M310.40 490.80L315.61 490.80L320.82 490.80L326.04 490.80L331.25 490.80L336.46 490.80L341.67 490.80L346.89 490.80L352.10 490.80L357.31 490.80L362.52 490.80L367.74 490.80L372.95 490.80L378.16 490.80L383.38 490.80L388.59 490.80L393.80 490.80L399.01 490.80L404.22 490.80L409.44 490.80L414.65 490.80L419.86 490.80L425.07 490.80L430.29 490.80L435.50 490.80L440.71 490.80L445.92 490.80L451.14 490.80L456.35 490.80L461.56 490.80L466.77 490.80L471.99 490.80L477.20 490.80L482.41 490.80L487.62 490.80L492.84 490.80L498.05 490.80L503.26 490.80L508.47 490.80L513.69 490.80L518.90 490.80" stroke="#9400d3" stroke-width="1.35" fill="none" stroke-linejoin="round"/>
<path d="M308.40 490.80H312.40M310.40 488.80V492.80" stroke="#9400d3" stroke-width="1.1" fill="none"/>
<path d="M313.61 490.80H317.61M315.61 488.80V492.80" stroke="#9400d3" stroke-width="1.1" fill="none"/>
<path d="M318.82 490.80H322.82M320.82 488.80V492.80" stroke="#9400d3" stroke-width="1.1" fill="none"/>
<path d="M324.04 490.80H328.04M326.04 488.80V492.80" stroke="#9400d3" stroke-width="1.1" fill="none"/>
<path d="M329.25 490.80H333.25M331.25 488.80V492.80" stroke="#9400d3" stroke-width="1.1" fill="none"/>
<path d="M334.46 490.80H338.46M336.46 488.80V492.80" stroke="#9400d3" stroke-width="1.1" fill="none"/>
<path d="M339.67 490.80H343.67M341.67 488.80V492.80" stroke="#9400d3" stroke-width="1.1" fill="none"/>
<path d="M344.89 490.80H348.89M346.89 488.80V492.80" stroke="#9400d3" stroke-width="1.1" fill="none"/>
<path d="M350.10 490.80H354.10M352.10 488.80V492.80" stroke="#9400d3" stroke-width="1.1" fill="none"/>
<path d="M355.31 490.80H359.31M357.31 488.80V492.80" stroke="#9400d3" stroke-width="1.1" fill="none"/>
<path d="M360.52 490.80H364.52M362.52 488.80V492.80" stroke="#9400d3" stroke-width="1.1" fill="none"/>
<path d="M365.74 490.80H369.74M367.74 488.80V492.80" stroke="#9400d3" stroke-width="1.1" fill="none"/>
<path d="M370.95 490.80H374.95M372.95 488.80V492.80" stroke="#9400d3" stroke-width="1.1" fill="none"/>
<path d="M376.16 490.80H380.16M378.16 488.80V492.80" stroke="#9400d3" stroke-width="1.1" fill="none"/>
<path d="M381.38 490.80H385.38M383.38 488.80V492.80" stroke="#9400d3" stroke-width="1.1" fill="none"/>
<path d="M386.59 490.80H390.59M388.59 488.80V492.80" stroke="#9400d3" stroke-width="1.1" fill="none"/>
<path d="M391.80 490.80H395.80M393.80 488.80V492.80" stroke="#9400d3" stroke-width="1.1" fill="none"/>
<path d="M397.01 490.80H401.01M399.01 488.80V492.80" stroke="#9400d3" stroke-width="1.1" fill="none"/>
<path d="M402.22 490.80H406.22M404.22 488.80V492.80" stroke="#9400d3" stroke-width="1.1" fill="none"/>
<path d="M407.44 490.80H411.44M409.44 488.80V492.80" stroke="#9400d3" stroke-width="1.1" fill="none"/>
<path d="M412.65 490.80H416.65M414.65 488.80V492.80" stroke="#9400d3" stroke-width="1.1" fill="none"/>
<path d="M417.86 490.80H421.86M419.86 488.80V492.80" stroke="#9400d3" stroke-width="1.1" fill="none"/>
<path d="M423.07 490.80H427.07M425.07 488.80V492.80" stroke="#9400d3" stroke-width="1.1" fill="none"/>
<path d="M428.29 490.80H432.29M430.29 488.80V492.80" stroke="#9400d3" stroke-width="1.1" fill="none"/>
<path d="M433.50 490.80H437.50M435.50 488.80V492.80" stroke="#9400d3" stroke-width="1.1" fill="none"/>
<path d="M438.71 490.80H442.71M440.71 488.80V492.80" stroke="#9400d3" stroke-width="1.1" fill="none"/>
<path d="M443.92 490.80H447.92M445.92 488.80V492.80" stroke="#9400d3" stroke-width="1.1" fill="none"/>
<path d="M449.14 490.80H453.14M451.14 488.80V492.80" stroke="#9400d3" stroke-width="1.1" fill="none"/>
<path d="M454.35 490.80H458.35M456.35 488.80V492.80" stroke="#9400d3" stroke-width="1.1" fill="none"/>
<path d="M459.56 490.80H463.56M461.56 488.80V492.80" stroke="#9400d3" stroke-width="1.1" fill="none"/>
<path d="M464.77 490.80H468.77M466.77 488.80V492.80" stroke="#9400d3" stroke-width="1.1" fill="none"/>
<path d="M469.99 490.80H473.99M471.99 488.80V492.80" stroke="#9400d3" stroke-width="1.1" fill="none"/>
<path d="M475.20 490.80H479.20M477.20 488.80V492.80" stroke="#9400d3" stroke-width="1.1" fill="none"/>
<path d="M480.41 490.80H484.41M482.41 488.80V492.80" stroke="#9400d3" stroke-width="1.1" fill="none"/>
<path d="M485.62 490.80H489.62M487.62 488.80V492.80" stroke="#9400d3" stroke-width="1.1" fill="none"/>
<path d="M490.84 490.80H494.84M492.84 488.80V492.80" stroke="#9400d3" stroke-width="1.1" fill="none"/>
<path d="M496.05 490.80H500.05M498.05 488.80V492.80" stroke="#9400d3" stroke-width="1.1" fill="none"/>
<path d="M501.26 490.80H505.26M503.26 488.80V492.80" stroke="#9400d3" stroke-width="1.1" fill="none"/>
<path d="M506.47 490.80H510.47M508.47 488.80V492.80" stroke="#9400d3" stroke-width="1.1" fill="none"/>
<path d="M511.69 490.80H515.69M513.69 488.80V492.80" stroke="#9400d3" stroke-width="1.1" fill="none"/>
<path d="M516.90 490.80H520.90M518.90 488.80V492.80" stroke="#9400d3" stroke-width="1.1" fill="none"/>
<path d="M310.40 330.14L315.61 391.30L320.82 414.62L326.04 432.24L331.25 446.23L336.46 453.49L341.67 455.56L346.89 457.11L352.10 459.19L357.31 461.78L362.52 460.74L367.74 460.22L372.95 460.22L378.16 460.22L383.38 460.74L388.59 459.71L393.80 459.71L399.01 461.26L404.22 457.11L409.44 459.71L414.65 459.71L419.86 457.11L425.07 458.15L430.29 458.67L435.50 458.15L440.71 457.63L445.92 460.22L451.14 458.15L456.35 456.08L461.56 455.56L466.77 457.11L471.99 461.78L477.20 464.37L482.41 467.48L487.62 464.89L492.84 460.22L498.05 458.67L503.26 457.63L508.47 457.63L513.69 456.60L518.90 455.56" stroke="#009e73" stroke-width="1.35" fill="none" stroke-linejoin="round"/>
<path d="M308.40 328.14L312.40 332.14M308.40 332.14L312.40 328.14" stroke="#009e73" stroke-width="1.1" fill="none"/>
<path d="M313.61 389.30L317.61 393.30M313.61 393.30L317.61 389.30" stroke="#009e73" stroke-width="1.1" fill="none"/>
<path d="M318.82 412.62L322.82 416.62M318.82 416.62L322.82 412.62" stroke="#009e73" stroke-width="1.1" fill="none"/>
<path d="M324.04 430.24L328.04 434.24M324.04 434.24L328.04 430.24" stroke="#009e73" stroke-width="1.1" fill="none"/>
<path d="M329.25 444.23L333.25 448.23M329.25 448.23L333.25 444.23" stroke="#009e73" stroke-width="1.1" fill="none"/>
<path d="M334.46 451.49L338.46 455.49M334.46 455.49L338.46 451.49" stroke="#009e73" stroke-width="1.1" fill="none"/>
<path d="M339.67 453.56L343.67 457.56M339.67 457.56L343.67 453.56" stroke="#009e73" stroke-width="1.1" fill="none"/>
<path d="M344.89 455.11L348.89 459.11M344.89 459.11L348.89 455.11" stroke="#009e73" stroke-width="1.1" fill="none"/>
<path d="M350.10 457.19L354.10 461.19M350.10 461.19L354.10 457.19" stroke="#009e73" stroke-width="1.1" fill="none"/>
<path d="M355.31 459.78L359.31 463.78M355.31 463.78L359.31 459.78" stroke="#009e73" stroke-width="1.1" fill="none"/>
<path d="M360.52 458.74L364.52 462.74M360.52 462.74L364.52 458.74" stroke="#009e73" stroke-width="1.1" fill="none"/>
<path d="M365.74 458.22L369.74 462.22M365.74 462.22L369.74 458.22" stroke="#009e73" stroke-width="1.1" fill="none"/>
<path d="M370.95 458.22L374.95 462.22M370.95 462.22L374.95 458.22" stroke="#009e73" stroke-width="1.1" fill="none"/>
<path d="M376.16 458.22L380.16 462.22M376.16 462.22L380.16 458.22" stroke="#009e73" stroke-width="1.1" fill="none"/>
<path d="M381.38 458.74L385.38 462.74M381.38 462.74L385.38 458.74" stroke="#009e73" stroke-width="1.1" fill="none"/>
<path d="M386.59 457.71L390.59 461.71M386.59 461.71L390.59 457.71" stroke="#009e73" stroke-width="1.1" fill="none"/>
<path d="M391.80 457.71L395.80 461.71M391.80 461.71L395.80 457.71" stroke="#009e73" stroke-width="1.1" fill="none"/>
<path d="M397.01 459.26L401.01 463.26M397.01 463.26L401.01 459.26" stroke="#009e73" stroke-width="1.1" fill="none"/>
<path d="M402.22 455.11L406.22 459.11M402.22 459.11L406.22 455.11" stroke="#009e73" stroke-width="1.1" fill="none"/>
<path d="M407.44 457.71L411.44 461.71M407.44 461.71L411.44 457.71" stroke="#009e73" stroke-width="1.1" fill="none"/>
<path d="M412.65 457.71L416.65 461.71M412.65 461.71L416.65 457.71" stroke="#009e73" stroke-width="1.1" fill="none"/>
<path d="M417.86 455.11L421.86 459.11M417.86 459.11L421.86 455.11" stroke="#009e73" stroke-width="1.1" fill="none"/>
<path d="M423.07 456.15L427.07 460.15M423.07 460.15L427.07 456.15" stroke="#009e73" stroke-width="1.1" fill="none"/>
<path d="M428.29 456.67L432.29 460.67M428.29 460.67L432.29 456.67" stroke="#009e73" stroke-width="1.1" fill="none"/>
<path d="M433.50 456.15L437.50 460.15M433.50 460.15L437.50 456.15" stroke="#009e73" stroke-width="1.1" fill="none"/>
<path d="M438.71 455.63L442.71 459.63M438.71 459.63L442.71 455.63" stroke="#009e73" stroke-width="1.1" fill="none"/>
<path d="M443.92 458.22L447.92 462.22M443.92 462.22L447.92 458.22" stroke="#009e73" stroke-width="1.1" fill="none"/>
<path d="M449.14 456.15L453.14 460.15M449.14 460.15L453.14 456.15" stroke="#009e73" stroke-width="1.1" fill="none"/>
<path d="M454.35 454.08L458.35 458.08M454.35 458.08L458.35 454.08" stroke="#009e73" stroke-width="1.1" fill="none"/>
<path d="M459.56 453.56L463.56 457.56M459.56 457.56L463.56 453.56" stroke="#009e73" stroke-width="1.1" fill="none"/>
<path d="M464.77 455.11L468.77 459.11M464.77 459.11L468.77 455.11" stroke="#009e73" stroke-width="1.1" fill="none"/>
<path d="M469.99 459.78L473.99 463.78M469.99 463.78L473.99 459.78" stroke="#009e73" stroke-width="1.1" fill="none"/>
<path d="M475.20 462.37L479.20 466.37M475.20 466.37L479.20 462.37" stroke="#009e73" stroke-width="1.1" fill="none"/>
<path d="M480.41 465.48L484.41 469.48M480.41 469.48L484.41 465.48" stroke="#009e73" stroke-width="1.1" fill="none"/>
<path d="M485.62 462.89L489.62 466.89M485.62 466.89L489.62 462.89" stroke="#009e73" stroke-width="1.1" fill="none"/>
<path d="M490.84 458.22L494.84 462.22M490.84 462.22L494.84 458.22" stroke="#009e73" stroke-width="1.1" fill="none"/>
<path d="M496.05 456.67L500.05 460.67M496.05 460.67L500.05 456.67" stroke="#009e73" stroke-width="1.1" fill="none"/>
<path d="M501.26 455.63L505.26 459.63M501.26 459.63L505.26 455.63" stroke="#009e73" stroke-width="1.1" fill="none"/>
<path d="M506.47 455.63L510.47 459.63M506.47 459.63L510.47 455.63" stroke="#009e73" stroke-width="1.1" fill="none"/>
<path d="M511.69 454.60L515.69 458.60M511.69 458.60L515.69 454.60" stroke="#009e73" stroke-width="1.1" fill="none"/>
<path d="M516.90 453.56L520.90 457.56M516.90 457.56L520.90 453.56" stroke="#009e73" stroke-width="1.1" fill="none"/>
<path d="M310.40 394.41L315.61 431.72L320.82 446.23L326.04 449.34L331.25 454.00L336.46 454.52L341.67 456.60L346.89 452.45L352.10 454.00L357.31 452.45L362.52 449.34L367.74 444.16L372.95 445.71L378.16 444.68L383.38 444.16L388.59 444.68L393.80 443.64L399.01 444.68L404.22 443.64L409.44 443.12L414.65 443.64L419.86 442.60L425.07 446.23L430.29 435.87L435.50 436.90L440.71 435.87L445.92 442.08L451.14 437.42L456.35 435.35L461.56 438.98L466.77 432.24L471.99 429.65L477.20 427.57L482.41 427.57L487.62 427.06L492.84 433.27L498.05 424.46L503.26 433.79L508.47 428.09L513.69 431.20L518.90 426.54" stroke="#56b4e9" stroke-width="1.35" fill="none" stroke-linejoin="round"/>
<rect x="308.60" y="392.61" width="3.60" height="3.60" fill="#56b4e9"/>
<rect x="313.81" y="429.92" width="3.60" height="3.60" fill="#56b4e9"/>
<rect x="319.02" y="444.43" width="3.60" height="3.60" fill="#56b4e9"/>
<rect x="324.24" y="447.54" width="3.60" height="3.60" fill="#56b4e9"/>
<rect x="329.45" y="452.20" width="3.60" height="3.60" fill="#56b4e9"/>
<rect x="334.66" y="452.72" width="3.60" height="3.60" fill="#56b4e9"/>
<rect x="339.87" y="454.80" width="3.60" height="3.60" fill="#56b4e9"/>
<rect x="345.09" y="450.65" width="3.60" height="3.60" fill="#56b4e9"/>
<rect x="350.30" y="452.20" width="3.60" height="3.60" fill="#56b4e9"/>
<rect x="355.51" y="450.65" width="3.60" height="3.60" fill="#56b4e9"/>
<rect x="360.72" y="447.54" width="3.60" height="3.60" fill="#56b4e9"/>
<rect x="365.94" y="442.36" width="3.60" height="3.60" fill="#56b4e9"/>
<rect x="371.15" y="443.91" width="3.60" height="3.60" fill="#56b4e9"/>
<rect x="376.36" y="442.88" width="3.60" height="3.60" fill="#56b4e9"/>
<rect x="381.57" y="442.36" width="3.60" height="3.60" fill="#56b4e9"/>
<rect x="386.79" y="442.88" width="3.60" height="3.60" fill="#56b4e9"/>
<rect x="392.00" y="441.84" width="3.60" height="3.60" fill="#56b4e9"/>
<rect x="397.21" y="442.88" width="3.60" height="3.60" fill="#56b4e9"/>
<rect x="402.42" y="441.84" width="3.60" height="3.60" fill="#56b4e9"/>
<rect x="407.64" y="441.32" width="3.60" height="3.60" fill="#56b4e9"/>
<rect x="412.85" y="441.84" width="3.60" height="3.60" fill="#56b4e9"/>
<rect x="418.06" y="440.80" width="3.60" height="3.60" fill="#56b4e9"/>
<rect x="423.27" y="444.43" width="3.60" height="3.60" fill="#56b4e9"/>
<rect x="428.49" y="434.07" width="3.60" height="3.60" fill="#56b4e9"/>
<rect x="433.70" y="435.10" width="3.60" height="3.60" fill="#56b4e9"/>
<rect x="438.91" y="434.07" width="3.60" height="3.60" fill="#56b4e9"/>
<rect x="444.12" y="440.28" width="3.60" height="3.60" fill="#56b4e9"/>
<rect x="449.34" y="435.62" width="3.60" height="3.60" fill="#56b4e9"/>
<rect x="454.55" y="433.55" width="3.60" height="3.60" fill="#56b4e9"/>
<rect x="459.76" y="437.18" width="3.60" height="3.60" fill="#56b4e9"/>
<rect x="464.97" y="430.44" width="3.60" height="3.60" fill="#56b4e9"/>
<rect x="470.19" y="427.85" width="3.60" height="3.60" fill="#56b4e9"/>
<rect x="475.40" y="425.77" width="3.60" height="3.60" fill="#56b4e9"/>
<rect x="480.61" y="425.77" width="3.60" height="3.60" fill="#56b4e9"/>
<rect x="485.82" y="425.26" width="3.60" height="3.60" fill="#56b4e9"/>
<rect x="491.04" y="431.47" width="3.60" height="3.60" fill="#56b4e9"/>
<rect x="496.25" y="422.66" width="3.60" height="3.60" fill="#56b4e9"/>
<rect x="501.46" y="431.99" width="3.60" height="3.60" fill="#56b4e9"/>
<rect x="506.67" y="426.29" width="3.60" height="3.60" fill="#56b4e9"/>
<rect x="511.89" y="429.40" width="3.60" height="3.60" fill="#56b4e9"/>
<rect x="517.10" y="424.74" width="3.60" height="3.60" fill="#56b4e9"/>
<path d="M310.40 477.33L315.61 483.03L320.82 478.88L326.04 475.25L331.25 469.03L336.46 465.41L341.67 463.33L346.89 460.74L352.10 457.11L357.31 457.63L362.52 458.15L367.74 454.52L372.95 449.86L378.16 452.45L383.38 451.93L388.59 451.93L393.80 447.27L399.01 446.75L404.22 449.34L409.44 450.38L414.65 447.79L419.86 446.23L425.07 443.64L430.29 442.08L435.50 443.64L440.71 447.27L445.92 446.23L451.14 443.12L456.35 437.94L461.56 442.08L466.77 438.98L471.99 439.49L477.20 433.27L482.41 430.68L487.62 429.65L492.84 431.72L498.05 428.61L503.26 430.68L508.47 434.31L513.69 434.83L518.90 428.61" stroke="#e69f00" stroke-width="1.35" fill="none" stroke-linejoin="round"/>
<rect x="308.85" y="475.78" width="3.10" height="3.10" fill="none" stroke="#e69f00" stroke-width="1.3"/>
<rect x="314.06" y="481.48" width="3.10" height="3.10" fill="none" stroke="#e69f00" stroke-width="1.3"/>
<rect x="319.27" y="477.33" width="3.10" height="3.10" fill="none" stroke="#e69f00" stroke-width="1.3"/>
<rect x="324.49" y="473.70" width="3.10" height="3.10" fill="none" stroke="#e69f00" stroke-width="1.3"/>
<rect x="329.70" y="467.48" width="3.10" height="3.10" fill="none" stroke="#e69f00" stroke-width="1.3"/>
<rect x="334.91" y="463.86" width="3.10" height="3.10" fill="none" stroke="#e69f00" stroke-width="1.3"/>
<rect x="340.12" y="461.78" width="3.10" height="3.10" fill="none" stroke="#e69f00" stroke-width="1.3"/>
<rect x="345.34" y="459.19" width="3.10" height="3.10" fill="none" stroke="#e69f00" stroke-width="1.3"/>
<rect x="350.55" y="455.56" width="3.10" height="3.10" fill="none" stroke="#e69f00" stroke-width="1.3"/>
<rect x="355.76" y="456.08" width="3.10" height="3.10" fill="none" stroke="#e69f00" stroke-width="1.3"/>
<rect x="360.97" y="456.60" width="3.10" height="3.10" fill="none" stroke="#e69f00" stroke-width="1.3"/>
<rect x="366.19" y="452.97" width="3.10" height="3.10" fill="none" stroke="#e69f00" stroke-width="1.3"/>
<rect x="371.40" y="448.31" width="3.10" height="3.10" fill="none" stroke="#e69f00" stroke-width="1.3"/>
<rect x="376.61" y="450.90" width="3.10" height="3.10" fill="none" stroke="#e69f00" stroke-width="1.3"/>
<rect x="381.82" y="450.38" width="3.10" height="3.10" fill="none" stroke="#e69f00" stroke-width="1.3"/>
<rect x="387.04" y="450.38" width="3.10" height="3.10" fill="none" stroke="#e69f00" stroke-width="1.3"/>
<rect x="392.25" y="445.72" width="3.10" height="3.10" fill="none" stroke="#e69f00" stroke-width="1.3"/>
<rect x="397.46" y="445.20" width="3.10" height="3.10" fill="none" stroke="#e69f00" stroke-width="1.3"/>
<rect x="402.67" y="447.79" width="3.10" height="3.10" fill="none" stroke="#e69f00" stroke-width="1.3"/>
<rect x="407.89" y="448.83" width="3.10" height="3.10" fill="none" stroke="#e69f00" stroke-width="1.3"/>
<rect x="413.10" y="446.24" width="3.10" height="3.10" fill="none" stroke="#e69f00" stroke-width="1.3"/>
<rect x="418.31" y="444.68" width="3.10" height="3.10" fill="none" stroke="#e69f00" stroke-width="1.3"/>
<rect x="423.52" y="442.09" width="3.10" height="3.10" fill="none" stroke="#e69f00" stroke-width="1.3"/>
<rect x="428.74" y="440.53" width="3.10" height="3.10" fill="none" stroke="#e69f00" stroke-width="1.3"/>
<rect x="433.95" y="442.09" width="3.10" height="3.10" fill="none" stroke="#e69f00" stroke-width="1.3"/>
<rect x="439.16" y="445.72" width="3.10" height="3.10" fill="none" stroke="#e69f00" stroke-width="1.3"/>
<rect x="444.37" y="444.68" width="3.10" height="3.10" fill="none" stroke="#e69f00" stroke-width="1.3"/>
<rect x="449.59" y="441.57" width="3.10" height="3.10" fill="none" stroke="#e69f00" stroke-width="1.3"/>
<rect x="454.80" y="436.39" width="3.10" height="3.10" fill="none" stroke="#e69f00" stroke-width="1.3"/>
<rect x="460.01" y="440.53" width="3.10" height="3.10" fill="none" stroke="#e69f00" stroke-width="1.3"/>
<rect x="465.22" y="437.43" width="3.10" height="3.10" fill="none" stroke="#e69f00" stroke-width="1.3"/>
<rect x="470.44" y="437.94" width="3.10" height="3.10" fill="none" stroke="#e69f00" stroke-width="1.3"/>
<rect x="475.65" y="431.72" width="3.10" height="3.10" fill="none" stroke="#e69f00" stroke-width="1.3"/>
<rect x="480.86" y="429.13" width="3.10" height="3.10" fill="none" stroke="#e69f00" stroke-width="1.3"/>
<rect x="486.07" y="428.10" width="3.10" height="3.10" fill="none" stroke="#e69f00" stroke-width="1.3"/>
<rect x="491.29" y="430.17" width="3.10" height="3.10" fill="none" stroke="#e69f00" stroke-width="1.3"/>
<rect x="496.50" y="427.06" width="3.10" height="3.10" fill="none" stroke="#e69f00" stroke-width="1.3"/>
<rect x="501.71" y="429.13" width="3.10" height="3.10" fill="none" stroke="#e69f00" stroke-width="1.3"/>
<rect x="506.92" y="432.76" width="3.10" height="3.10" fill="none" stroke="#e69f00" stroke-width="1.3"/>
<rect x="512.14" y="433.28" width="3.10" height="3.10" fill="none" stroke="#e69f00" stroke-width="1.3"/>
<rect x="517.35" y="427.06" width="3.10" height="3.10" fill="none" stroke="#e69f00" stroke-width="1.3"/>
<path d="M310.40 487.17L315.61 488.21L320.82 487.17L326.04 486.14L331.25 484.58L336.46 481.99L341.67 479.40L346.89 474.22L352.10 475.77L357.31 473.18L362.52 471.11L367.74 466.96L372.95 469.55L378.16 463.33L383.38 461.26L388.59 462.81L393.80 458.67L399.01 458.67L404.22 459.71L409.44 457.11L414.65 458.67L419.86 460.74L425.07 459.71L430.29 458.67L435.50 457.63L440.71 456.08L445.92 456.08L451.14 457.63L456.35 457.63L461.56 459.71L466.77 459.71L471.99 458.67L477.20 458.67L482.41 454.52L487.62 455.04L492.84 455.56L498.05 458.15L503.26 456.08L508.47 456.08L513.69 456.60L518.90 455.56" stroke="#f0e442" stroke-width="1.35" fill="none" stroke-linejoin="round"/>
<rect x="308.20" y="484.97" width="4.40" height="4.40" fill="#f0e442"/>
<rect x="313.41" y="486.01" width="4.40" height="4.40" fill="#f0e442"/>
<rect x="318.62" y="484.97" width="4.40" height="4.40" fill="#f0e442"/>
<rect x="323.84" y="483.94" width="4.40" height="4.40" fill="#f0e442"/>
<rect x="329.05" y="482.38" width="4.40" height="4.40" fill="#f0e442"/>
<rect x="334.26" y="479.79" width="4.40" height="4.40" fill="#f0e442"/>
<rect x="339.47" y="477.20" width="4.40" height="4.40" fill="#f0e442"/>
<rect x="344.69" y="472.02" width="4.40" height="4.40" fill="#f0e442"/>
<rect x="349.90" y="473.57" width="4.40" height="4.40" fill="#f0e442"/>
<rect x="355.11" y="470.98" width="4.40" height="4.40" fill="#f0e442"/>
<rect x="360.32" y="468.91" width="4.40" height="4.40" fill="#f0e442"/>
<rect x="365.54" y="464.76" width="4.40" height="4.40" fill="#f0e442"/>
<rect x="370.75" y="467.35" width="4.40" height="4.40" fill="#f0e442"/>
<rect x="375.96" y="461.13" width="4.40" height="4.40" fill="#f0e442"/>
<rect x="381.18" y="459.06" width="4.40" height="4.40" fill="#f0e442"/>
<rect x="386.39" y="460.61" width="4.40" height="4.40" fill="#f0e442"/>
<rect x="391.60" y="456.47" width="4.40" height="4.40" fill="#f0e442"/>
<rect x="396.81" y="456.47" width="4.40" height="4.40" fill="#f0e442"/>
<rect x="402.02" y="457.51" width="4.40" height="4.40" fill="#f0e442"/>
<rect x="407.24" y="454.91" width="4.40" height="4.40" fill="#f0e442"/>
<rect x="412.45" y="456.47" width="4.40" height="4.40" fill="#f0e442"/>
<rect x="417.66" y="458.54" width="4.40" height="4.40" fill="#f0e442"/>
<rect x="422.88" y="457.51" width="4.40" height="4.40" fill="#f0e442"/>
<rect x="428.09" y="456.47" width="4.40" height="4.40" fill="#f0e442"/>
<rect x="433.30" y="455.43" width="4.40" height="4.40" fill="#f0e442"/>
<rect x="438.51" y="453.88" width="4.40" height="4.40" fill="#f0e442"/>
<rect x="443.72" y="453.88" width="4.40" height="4.40" fill="#f0e442"/>
<rect x="448.94" y="455.43" width="4.40" height="4.40" fill="#f0e442"/>
<rect x="454.15" y="455.43" width="4.40" height="4.40" fill="#f0e442"/>
<rect x="459.36" y="457.51" width="4.40" height="4.40" fill="#f0e442"/>
<rect x="464.57" y="457.51" width="4.40" height="4.40" fill="#f0e442"/>
<rect x="469.79" y="456.47" width="4.40" height="4.40" fill="#f0e442"/>
<rect x="475.00" y="456.47" width="4.40" height="4.40" fill="#f0e442"/>
<rect x="480.21" y="452.32" width="4.40" height="4.40" fill="#f0e442"/>
<rect x="485.43" y="452.84" width="4.40" height="4.40" fill="#f0e442"/>
<rect x="490.64" y="453.36" width="4.40" height="4.40" fill="#f0e442"/>
<rect x="495.85" y="455.95" width="4.40" height="4.40" fill="#f0e442"/>
<rect x="501.06" y="453.88" width="4.40" height="4.40" fill="#f0e442"/>
<rect x="506.27" y="453.88" width="4.40" height="4.40" fill="#f0e442"/>
<rect x="511.49" y="454.40" width="4.40" height="4.40" fill="#f0e442"/>
<rect x="516.70" y="453.36" width="4.40" height="4.40" fill="#f0e442"/>
<path d="M310.40 490.80L315.61 490.80L320.82 490.80L326.04 490.80L331.25 490.80L336.46 490.80L341.67 490.80L346.89 490.80L352.10 490.80L357.31 490.80L362.52 490.80L367.74 490.80L372.95 490.80L378.16 490.80L383.38 490.80L388.59 490.80L393.80 490.80L399.01 490.80L404.22 490.80L409.44 490.80L414.65 490.80L419.86 490.80L425.07 490.80L430.29 490.80L435.50 490.80L440.71 490.80L445.92 490.80L451.14 490.80L456.35 490.80L461.56 490.80L466.77 490.80L471.99 490.80L477.20 490.80L482.41 490.80L487.62 490.80L492.84 490.80L498.05 490.80L503.26 490.80L508.47 490.80L513.69 490.80" stroke="#0a6aab" stroke-width="1.35" fill="none" stroke-linejoin="round"/>
<circle cx="310.40" cy="490.80" r="2.0" fill="#0a6aab"/>
<circle cx="315.61" cy="490.80" r="2.0" fill="#0a6aab"/>
<circle cx="320.82" cy="490.80" r="2.0" fill="#0a6aab"/>
<circle cx="326.04" cy="490.80" r="2.0" fill="#0a6aab"/>
<circle cx="331.25" cy="490.80" r="2.0" fill="#0a6aab"/>
<circle cx="336.46" cy="490.80" r="2.0" fill="#0a6aab"/>
<circle cx="341.67" cy="490.80" r="2.0" fill="#0a6aab"/>
<circle cx="346.89" cy="490.80" r="2.0" fill="#0a6aab"/>
<circle cx="352.10" cy="490.80" r="2.0" fill="#0a6aab"/>
<circle cx="357.31" cy="490.80" r="2.0" fill="#0a6aab"/>
<circle cx="362.52" cy="490.80" r="2.0" fill="#0a6aab"/>
<circle cx="367.74" cy="490.80" r="2.0" fill="#0a6aab"/>
<circle cx="372.95" cy="490.80" r="2.0" fill="#0a6aab"/>
<circle cx="378.16" cy="490.80" r="2.0" fill="#0a6aab"/>
<circle cx="383.38" cy="490.80" r="2.0" fill="#0a6aab"/>
<circle cx="388.59" cy="490.80" r="2.0" fill="#0a6aab"/>
<circle cx="393.80" cy="490.80" r="2.0" fill="#0a6aab"/>
<circle cx="399.01" cy="490.80" r="2.0" fill="#0a6aab"/>
<circle cx="404.22" cy="490.80" r="2.0" fill="#0a6aab"/>
<circle cx="409.44" cy="490.80" r="2.0" fill="#0a6aab"/>
<circle cx="414.65" cy="490.80" r="2.0" fill="#0a6aab"/>
<circle cx="419.86" cy="490.80" r="2.0" fill="#0a6aab"/>
<circle cx="425.07" cy="490.80" r="2.0" fill="#0a6aab"/>
<circle cx="430.29" cy="490.80" r="2.0" fill="#0a6aab"/>
<circle cx="435.50" cy="490.80" r="2.0" fill="#0a6aab"/>
<circle cx="440.71" cy="490.80" r="2.0" fill="#0a6aab"/>
<circle cx="445.92" cy="490.80" r="2.0" fill="#0a6aab"/>
<circle cx="451.14" cy="490.80" r="2.0" fill="#0a6aab"/>
<circle cx="456.35" cy="490.80" r="2.0" fill="#0a6aab"/>
<circle cx="461.56" cy="490.80" r="2.0" fill="#0a6aab"/>
<circle cx="466.77" cy="490.80" r="2.0" fill="#0a6aab"/>
<circle cx="471.99" cy="490.80" r="2.0" fill="#0a6aab"/>
<circle cx="477.20" cy="490.80" r="2.0" fill="#0a6aab"/>
<circle cx="482.41" cy="490.80" r="2.0" fill="#0a6aab"/>
<circle cx="487.62" cy="490.80" r="2.0" fill="#0a6aab"/>
<circle cx="492.84" cy="490.80" r="2.0" fill="#0a6aab"/>
<circle cx="498.05" cy="490.80" r="2.0" fill="#0a6aab"/>
<circle cx="503.26" cy="490.80" r="2.0" fill="#0a6aab"/>
<circle cx="508.47" cy="490.80" r="2.0" fill="#0a6aab"/>
<circle cx="513.69" cy="490.80" r="2.0" fill="#0a6aab"/>
<rect x="310.40" y="283.50" width="208.50" height="207.30" fill="none" stroke="#555555" stroke-width="1" style="mix-blend-mode:multiply"/>
<path d="M331.25 490.30v-1.7M331.25 284.00v1.7M352.10 490.30v-1.7M352.10 284.00v1.7M372.95 490.30v-1.7M372.95 284.00v1.7M393.80 490.30v-1.7M393.80 284.00v1.7M414.65 490.30v-1.7M414.65 284.00v1.7M435.50 490.30v-1.7M435.50 284.00v1.7M456.35 490.30v-1.7M456.35 284.00v1.7M477.20 490.30v-1.7M477.20 284.00v1.7M498.05 490.30v-1.7M498.05 284.00v1.7M310.90 464.89h1.7M518.40 464.89h-1.7M310.90 438.98h1.7M518.40 438.98h-1.7M310.90 413.06h1.7M518.40 413.06h-1.7M310.90 387.15h1.7M518.40 387.15h-1.7M310.90 361.24h1.7M518.40 361.24h-1.7M310.90 335.32h1.7M518.40 335.32h-1.7M310.90 309.41h1.7M518.40 309.41h-1.7" stroke="#555555" stroke-width="1" fill="none" style="mix-blend-mode:multiply"/>
<path d="M308.40 490.80H312.40M310.40 488.80V492.80" stroke="#9400d3" stroke-width="1.1" fill="none"/>
<path d="M313.61 490.80H317.61M315.61 488.80V492.80" stroke="#9400d3" stroke-width="1.1" fill="none"/>
<path d="M318.82 490.80H322.82M320.82 488.80V492.80" stroke="#9400d3" stroke-width="1.1" fill="none"/>
<path d="M324.04 490.80H328.04M326.04 488.80V492.80" stroke="#9400d3" stroke-width="1.1" fill="none"/>
<path d="M329.25 490.80H333.25M331.25 488.80V492.80" stroke="#9400d3" stroke-width="1.1" fill="none"/>
<path d="M334.46 490.80H338.46M336.46 488.80V492.80" stroke="#9400d3" stroke-width="1.1" fill="none"/>
<path d="M339.67 490.80H343.67M341.67 488.80V492.80" stroke="#9400d3" stroke-width="1.1" fill="none"/>
<path d="M344.89 490.80H348.89M346.89 488.80V492.80" stroke="#9400d3" stroke-width="1.1" fill="none"/>
<path d="M350.10 490.80H354.10M352.10 488.80V492.80" stroke="#9400d3" stroke-width="1.1" fill="none"/>
<path d="M355.31 490.80H359.31M357.31 488.80V492.80" stroke="#9400d3" stroke-width="1.1" fill="none"/>
<path d="M360.52 490.80H364.52M362.52 488.80V492.80" stroke="#9400d3" stroke-width="1.1" fill="none"/>
<path d="M365.74 490.80H369.74M367.74 488.80V492.80" stroke="#9400d3" stroke-width="1.1" fill="none"/>
<path d="M370.95 490.80H374.95M372.95 488.80V492.80" stroke="#9400d3" stroke-width="1.1" fill="none"/>
<path d="M376.16 490.80H380.16M378.16 488.80V492.80" stroke="#9400d3" stroke-width="1.1" fill="none"/>
<path d="M381.38 490.80H385.38M383.38 488.80V492.80" stroke="#9400d3" stroke-width="1.1" fill="none"/>
<path d="M386.59 490.80H390.59M388.59 488.80V492.80" stroke="#9400d3" stroke-width="1.1" fill="none"/>
<path d="M391.80 490.80H395.80M393.80 488.80V492.80" stroke="#9400d3" stroke-width="1.1" fill="none"/>
<path d="M397.01 490.80H401.01M399.01 488.80V492.80" stroke="#9400d3" stroke-width="1.1" fill="none"/>
<path d="M402.22 490.80H406.22M404.22 488.80V492.80" stroke="#9400d3" stroke-width="1.1" fill="none"/>
<path d="M407.44 490.80H411.44M409.44 488.80V492.80" stroke="#9400d3" stroke-width="1.1" fill="none"/>
<path d="M412.65 490.80H416.65M414.65 488.80V492.80" stroke="#9400d3" stroke-width="1.1" fill="none"/>
<path d="M417.86 490.80H421.86M419.86 488.80V492.80" stroke="#9400d3" stroke-width="1.1" fill="none"/>
<path d="M423.07 490.80H427.07M425.07 488.80V492.80" stroke="#9400d3" stroke-width="1.1" fill="none"/>
<path d="M428.29 490.80H432.29M430.29 488.80V492.80" stroke="#9400d3" stroke-width="1.1" fill="none"/>
<path d="M433.50 490.80H437.50M435.50 488.80V492.80" stroke="#9400d3" stroke-width="1.1" fill="none"/>
<path d="M438.71 490.80H442.71M440.71 488.80V492.80" stroke="#9400d3" stroke-width="1.1" fill="none"/>
<path d="M443.92 490.80H447.92M445.92 488.80V492.80" stroke="#9400d3" stroke-width="1.1" fill="none"/>
<path d="M449.14 490.80H453.14M451.14 488.80V492.80" stroke="#9400d3" stroke-width="1.1" fill="none"/>
<path d="M454.35 490.80H458.35M456.35 488.80V492.80" stroke="#9400d3" stroke-width="1.1" fill="none"/>
<path d="M459.56 490.80H463.56M461.56 488.80V492.80" stroke="#9400d3" stroke-width="1.1" fill="none"/>
<path d="M464.77 490.80H468.77M466.77 488.80V492.80" stroke="#9400d3" stroke-width="1.1" fill="none"/>
<path d="M469.99 490.80H473.99M471.99 488.80V492.80" stroke="#9400d3" stroke-width="1.1" fill="none"/>
<path d="M475.20 490.80H479.20M477.20 488.80V492.80" stroke="#9400d3" stroke-width="1.1" fill="none"/>
<path d="M480.41 490.80H484.41M482.41 488.80V492.80" stroke="#9400d3" stroke-width="1.1" fill="none"/>
<path d="M485.62 490.80H489.62M487.62 488.80V492.80" stroke="#9400d3" stroke-width="1.1" fill="none"/>
<path d="M490.84 490.80H494.84M492.84 488.80V492.80" stroke="#9400d3" stroke-width="1.1" fill="none"/>
<path d="M496.05 490.80H500.05M498.05 488.80V492.80" stroke="#9400d3" stroke-width="1.1" fill="none"/>
<path d="M501.26 490.80H505.26M503.26 488.80V492.80" stroke="#9400d3" stroke-width="1.1" fill="none"/>
<path d="M506.47 490.80H510.47M508.47 488.80V492.80" stroke="#9400d3" stroke-width="1.1" fill="none"/>
<path d="M511.69 490.80H515.69M513.69 488.80V492.80" stroke="#9400d3" stroke-width="1.1" fill="none"/>
<path d="M516.90 490.80H520.90M518.90 488.80V492.80" stroke="#9400d3" stroke-width="1.1" fill="none"/>
<path d="M308.40 328.14L312.40 332.14M308.40 332.14L312.40 328.14" stroke="#009e73" stroke-width="1.1" fill="none"/>
<rect x="308.60" y="392.61" width="3.60" height="3.60" fill="#56b4e9"/>
<rect x="308.85" y="475.78" width="3.10" height="3.10" fill="none" stroke="#e69f00" stroke-width="1.3"/>
<rect x="308.20" y="484.97" width="4.40" height="4.40" fill="#f0e442"/>
<circle cx="310.40" cy="490.80" r="2.0" fill="#0a6aab"/>
<circle cx="315.61" cy="490.80" r="2.0" fill="#0a6aab"/>
<circle cx="320.82" cy="490.80" r="2.0" fill="#0a6aab"/>
<circle cx="326.04" cy="490.80" r="2.0" fill="#0a6aab"/>
<circle cx="331.25" cy="490.80" r="2.0" fill="#0a6aab"/>
<circle cx="336.46" cy="490.80" r="2.0" fill="#0a6aab"/>
<circle cx="341.67" cy="490.80" r="2.0" fill="#0a6aab"/>
<circle cx="346.89" cy="490.80" r="2.0" fill="#0a6aab"/>
<circle cx="352.10" cy="490.80" r="2.0" fill="#0a6aab"/>
<circle cx="357.31" cy="490.80" r="2.0" fill="#0a6aab"/>
<circle cx="362.52" cy="490.80" r="2.0" fill="#0a6aab"/>
<circle cx="367.74" cy="490.80" r="2.0" fill="#0a6aab"/>
<circle cx="372.95" cy="490.80" r="2.0" fill="#0a6aab"/>
<circle cx="378.16" cy="490.80" r="2.0" fill="#0a6aab"/>
<circle cx="383.38" cy="490.80" r="2.0" fill="#0a6aab"/>
<circle cx="388.59" cy="490.80" r="2.0" fill="#0a6aab"/>
<circle cx="393.80" cy="490.80" r="2.0" fill="#0a6aab"/>
<circle cx="399.01" cy="490.80" r="2.0" fill="#0a6aab"/>
<circle cx="404.22" cy="490.80" r="2.0" fill="#0a6aab"/>
<circle cx="409.44" cy="490.80" r="2.0" fill="#0a6aab"/>
<circle cx="414.65" cy="490.80" r="2.0" fill="#0a6aab"/>
<circle cx="419.86" cy="490.80" r="2.0" fill="#0a6aab"/>
<circle cx="425.07" cy="490.80" r="2.0" fill="#0a6aab"/>
<circle cx="430.29" cy="490.80" r="2.0" fill="#0a6aab"/>
<circle cx="435.50" cy="490.80" r="2.0" fill="#0a6aab"/>
<circle cx="440.71" cy="490.80" r="2.0" fill="#0a6aab"/>
<circle cx="445.92" cy="490.80" r="2.0" fill="#0a6aab"/>
<circle cx="451.14" cy="490.80" r="2.0" fill="#0a6aab"/>
<circle cx="456.35" cy="490.80" r="2.0" fill="#0a6aab"/>
<circle cx="461.56" cy="490.80" r="2.0" fill="#0a6aab"/>
<circle cx="466.77" cy="490.80" r="2.0" fill="#0a6aab"/>
<circle cx="471.99" cy="490.80" r="2.0" fill="#0a6aab"/>
<circle cx="477.20" cy="490.80" r="2.0" fill="#0a6aab"/>
<circle cx="482.41" cy="490.80" r="2.0" fill="#0a6aab"/>
<circle cx="487.62" cy="490.80" r="2.0" fill="#0a6aab"/>
<circle cx="492.84" cy="490.80" r="2.0" fill="#0a6aab"/>
<circle cx="498.05" cy="490.80" r="2.0" fill="#0a6aab"/>
<circle cx="503.26" cy="490.80" r="2.0" fill="#0a6aab"/>
<circle cx="508.47" cy="490.80" r="2.0" fill="#0a6aab"/>
<circle cx="513.69" cy="490.80" r="2.0" fill="#0a6aab"/>
</svg>
</body></html>
